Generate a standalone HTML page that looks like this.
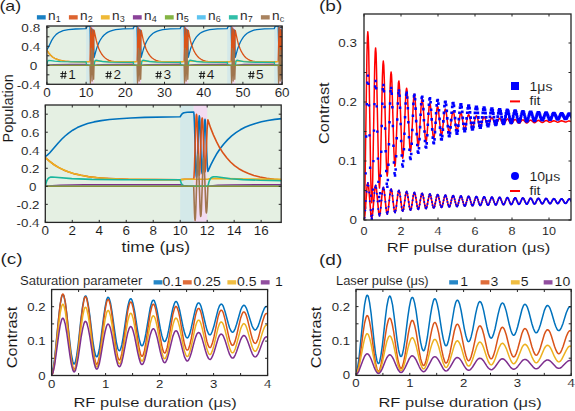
<!DOCTYPE html><html><head><meta charset="utf-8"><style>html,body{margin:0;padding:0;background:#fff;overflow:hidden;}svg{display:block;}text{font-family:"Liberation Sans",sans-serif;stroke:#fff;stroke-width:0.07px;}</style></head><body><svg width="575" height="411" viewBox="0 0 575 411" font-family="Liberation Sans, sans-serif" fill="#161616">
<rect width="575" height="411" fill="#fff"/>
<defs>
<clipPath id="ca1"><rect x="46.90" y="26.00" width="235.20" height="58.30"/></clipPath>
<clipPath id="ca2"><rect x="45.30" y="105.00" width="235.90" height="117.40"/></clipPath>
<clipPath id="cb"><rect x="364.00" y="14.00" width="207.00" height="206.00"/></clipPath>
<clipPath id="cc"><rect x="51.60" y="289.50" width="216.00" height="86.00"/></clipPath>
<clipPath id="cd"><rect x="356.00" y="289.50" width="215.20" height="85.90"/></clipPath>
</defs>
<rect x="46.9" y="26.0" width="235.20" height="58.30" fill="#E5F0E3"/>
<rect x="86.10" y="26.0" width="3.92" height="58.30" fill="#D4E9E9"/>
<rect x="90.02" y="26.0" width="3.92" height="58.30" fill="#F2DBF1"/>
<rect x="133.14" y="26.0" width="3.92" height="58.30" fill="#D4E9E9"/>
<rect x="137.06" y="26.0" width="3.92" height="58.30" fill="#F2DBF1"/>
<rect x="180.18" y="26.0" width="3.92" height="58.30" fill="#D4E9E9"/>
<rect x="184.10" y="26.0" width="3.92" height="58.30" fill="#F2DBF1"/>
<rect x="227.22" y="26.0" width="3.92" height="58.30" fill="#D4E9E9"/>
<rect x="231.14" y="26.0" width="3.92" height="58.30" fill="#F2DBF1"/>
<rect x="274.26" y="26.0" width="3.92" height="58.30" fill="#D4E9E9"/>
<rect x="278.18" y="26.0" width="3.92" height="58.30" fill="#F2DBF1"/>
<g clip-path="url(#ca1)">
<path d="M46.9,49.6L48.2,47.7L51.7,40.4L53.6,37.4L56.2,34.4L59.2,32.3L63.1,30.7L68.3,29.7L75.6,29.0L86.1,28.7L86.6,27.3L87.2,26.5L88.1,26.2L90.0,26.2L90.8,60.6L91.7,28.2L92.5,58.7L93.3,30.0L94.1,57.5L96.5,48.9L97.8,45.3L99.2,42.0L100.7,39.3L102.3,37.0L104.1,35.0L106.0,33.4L108.0,32.1L110.3,31.1L112.7,30.3L115.6,29.6L123.2,28.9L133.2,28.7L133.6,27.3L134.3,26.5L135.2,26.2L137.0,26.2L137.9,60.6L138.7,28.2L139.5,58.7L140.3,30.0L141.2,57.3L143.6,48.7L144.9,45.2L146.3,42.0L147.8,39.3L149.4,36.9L151.2,35.0L153.1,33.3L155.1,32.1L157.3,31.1L159.8,30.3L162.7,29.6L170.3,28.9L180.2,28.7L180.7,27.3L181.3,26.5L182.2,26.2L184.1,26.2L184.9,60.6L185.7,28.2L186.6,58.7L187.4,30.0L188.3,57.3L190.6,48.7L191.9,45.2L193.3,42.0L194.8,39.3L196.4,36.9L198.2,35.0L200.1,33.3L202.1,32.1L204.4,31.1L206.9,30.3L209.7,29.6L217.4,28.9L227.2,28.7L227.7,27.3L228.3,26.5L229.2,26.2L231.1,26.2L232.0,60.6L232.8,28.2L233.6,58.7L234.4,30.0L235.3,57.3L237.7,48.7L239.0,45.2L240.4,42.0L241.9,39.3L243.5,36.9L245.2,35.0L247.2,33.3L249.2,32.1L251.4,31.1L253.9,30.2L256.8,29.6L264.4,28.9L274.3,28.7L274.7,27.3L275.4,26.5L276.3,26.2L278.2,26.2L279.0,60.6L279.8,28.2L280.6,58.5L280.8,56.2L281.5,30.0L282.2,56.4L282.3,57.3L282.9,55.1" fill="none" stroke="#0072BD" stroke-width="1.3" stroke-linejoin="round" />
<path d="M46.9,50.1L49.3,53.8L52.2,56.7L55.4,58.7L59.4,60.2L64.4,61.1L71.0,61.6L86.1,61.9L87.4,61.6L90.0,61.5L90.8,27.4L91.7,59.5L92.5,29.3L93.3,57.7L94.1,30.2L96.3,40.5L97.5,44.7L98.7,48.2L100.1,51.4L101.6,54.0L103.3,56.2L105.1,57.9L107.0,59.3L109.0,60.3L111.4,61.1L114.2,61.7L121.2,62.4L133.1,62.7L133.2,61.9L133.5,61.8L137.1,61.4L137.9,27.4L138.7,59.5L139.5,29.3L140.3,57.7L141.2,30.5L143.4,40.7L144.6,44.8L145.8,48.3L147.2,51.4L148.7,54.0L150.3,56.2L152.1,58.0L154.0,59.3L156.1,60.3L158.5,61.2L161.3,61.7L168.3,62.4L180.2,62.7L180.2,61.9L180.5,61.8L184.1,61.4L184.9,27.4L185.7,59.5L186.6,29.3L187.4,57.7L188.3,30.5L190.4,40.7L191.6,44.8L192.9,48.3L194.2,51.4L195.7,54.0L197.4,56.2L199.2,58.0L201.1,59.3L203.2,60.3L205.6,61.2L208.3,61.7L215.4,62.4L227.2,62.7L227.2,61.9L227.5,61.8L231.2,61.4L232.0,27.4L232.8,59.5L233.6,29.3L234.4,57.7L235.3,30.5L237.5,40.7L238.6,44.8L239.9,48.3L241.3,51.4L242.8,54.0L244.4,56.2L246.2,58.0L248.1,59.3L250.2,60.3L252.6,61.2L255.4,61.7L262.4,62.4L274.2,62.7L274.3,61.9L274.6,61.8L278.2,61.4L279.0,27.4L279.8,59.2L280.0,56.9L280.6,29.3L281.5,57.7L282.2,31.6L282.3,30.5L282.9,33.4" fill="none" stroke="#D95319" stroke-width="1.3" stroke-linejoin="round" />
<path d="M46.9,50.1L48.7,53.0L50.7,55.3L52.9,57.2L55.4,58.7L58.3,59.8L61.6,60.7L65.5,61.2L70.5,61.6L86.1,61.9L87.6,61.6L94.1,61.5L95.1,61.2L96.5,61.1L108.1,61.6L133.1,61.7L133.2,61.9L134.6,61.6L141.2,61.5L142.1,61.2L143.5,61.1L155.2,61.6L180.2,61.7L180.2,61.9L181.7,61.6L188.2,61.5L189.2,61.2L190.5,61.1L202.3,61.6L227.2,61.7L227.2,61.9L228.7,61.6L235.3,61.5L236.2,61.2L237.5,61.1L249.3,61.6L274.2,61.7L274.3,61.9L275.8,61.6L282.3,61.5L282.9,61.3" fill="none" stroke="#EDB120" stroke-width="1.3" stroke-linejoin="round" />
<path d="M46.9,65.3L49.9,64.8L54.0,64.6L70.7,64.4L86.1,64.4L87.5,65.0L90.0,65.3L94.1,65.3L97.3,64.8L101.7,64.6L117.1,64.4L133.1,64.4L134.6,65.0L137.1,65.3L141.2,65.3L144.3,64.8L148.6,64.6L163.1,64.4L180.2,64.4L181.6,65.0L184.1,65.3L188.2,65.3L191.3,64.8L195.4,64.6L208.6,64.4L227.2,64.4L228.2,64.9L229.5,65.2L235.3,65.3L239.0,64.8L244.3,64.5L274.2,64.4L275.3,65.0L276.8,65.2L282.9,65.2" fill="none" stroke="#7E2F8E" stroke-width="1.3" stroke-linejoin="round" />
<path d="M46.9,65.3L282.9,65.3" fill="none" stroke="#4DBEEE" stroke-width="1.3" stroke-linejoin="round" />
<path d="M46.9,65.3L47.3,62.8L47.6,61.4L48.2,60.6L48.9,60.4L54.6,61.2L60.5,61.6L86.1,61.9L86.4,63.8L86.9,64.9L87.6,65.2L89.0,65.3L94.1,65.3L94.8,61.3L95.4,60.5L96.0,60.2L102.3,61.5L109.3,62.2L133.1,62.4L133.2,62.0L133.5,63.8L133.9,64.8L134.5,65.2L135.9,65.3L141.2,65.3L141.9,61.3L142.4,60.5L143.1,60.2L149.4,61.5L156.4,62.2L180.2,62.4L180.2,62.0L180.5,63.8L180.9,64.8L181.6,65.2L182.8,65.3L188.2,65.3L188.9,61.3L189.4,60.5L190.1,60.2L196.4,61.5L203.4,62.2L227.2,62.4L227.2,62.0L227.5,63.8L227.9,64.8L228.5,65.2L229.7,65.3L235.3,65.3L236.0,61.3L236.4,60.5L237.1,60.2L243.5,61.6L250.5,62.2L274.2,62.4L274.3,62.0L274.5,63.7L274.9,64.7L275.5,65.2L276.5,65.3L282.3,65.3L282.9,61.7" fill="none" stroke="#1BB79E" stroke-width="1.3" stroke-linejoin="round" />
<path d="M46.9,65.3L90.0,65.3L90.4,83.2L91.3,48.4L92.1,81.1L92.9,50.4L93.7,79.3L94.1,65.3L137.0,65.3L137.5,83.2L138.3,48.4L139.1,81.1L139.9,50.4L140.7,79.3L141.2,65.3L184.1,65.3L184.5,83.2L185.3,48.4L186.1,81.1L187.0,50.4L187.8,79.3L188.3,65.3L231.1,65.3L231.6,83.2L232.4,48.4L233.2,81.1L234.0,50.4L234.8,79.3L235.3,65.3L278.2,65.3L278.6,83.3L279.4,48.5L280.2,81.1L281.0,50.4L281.8,79.0L282.0,77.4L282.3,65.4L282.9,65.3" fill="none" stroke="#A0764E" stroke-width="1.3" stroke-linejoin="round" />
<path d="M46.9,65.3L282.9,65.3" fill="none" stroke="#77AC30" stroke-width="1.3" stroke-linejoin="round" stroke-opacity="0.55"/>
</g>
<path d="M46.90,84.30v-2.5M46.90,26.00v2.5M86.10,84.30v-2.5M86.10,26.00v2.5M125.30,84.30v-2.5M125.30,26.00v2.5M164.50,84.30v-2.5M164.50,26.00v2.5M203.70,84.30v-2.5M203.70,26.00v2.5M242.90,84.30v-2.5M242.90,26.00v2.5M282.10,84.30v-2.5M282.10,26.00v2.5M46.90,84.30h2.5M282.10,84.30h-2.5M46.90,74.80h2.5M282.10,74.80h-2.5M46.90,65.30h2.5M282.10,65.30h-2.5M46.90,55.80h2.5M282.10,55.80h-2.5M46.90,46.30h2.5M282.10,46.30h-2.5M46.90,36.80h2.5M282.10,36.80h-2.5M46.90,27.30h2.5M282.10,27.30h-2.5" stroke="#262626" stroke-width="1" fill="none"/>
<rect x="46.90" y="26.00" width="235.20" height="58.30" fill="none" stroke="#262626" stroke-width="1.3"/>
<text transform="translate(46.90,96.60) scale(1.120,1)" font-size="12" text-anchor="middle">0</text>
<text transform="translate(86.10,96.60) scale(1.120,1)" font-size="12" text-anchor="middle">10</text>
<text transform="translate(125.30,96.60) scale(1.120,1)" font-size="12" text-anchor="middle">20</text>
<text transform="translate(164.50,96.60) scale(1.120,1)" font-size="12" text-anchor="middle">30</text>
<text transform="translate(203.70,96.60) scale(1.120,1)" font-size="12" text-anchor="middle">40</text>
<text transform="translate(242.90,96.60) scale(1.120,1)" font-size="12" text-anchor="middle">50</text>
<text transform="translate(282.10,96.60) scale(1.120,1)" font-size="12" text-anchor="middle">60</text>
<text transform="translate(40.20,31.90) scale(1.180,1)" font-size="11.5" text-anchor="end">0.8</text>
<text transform="translate(40.20,50.90) scale(1.180,1)" font-size="11.5" text-anchor="end">0.4</text>
<text transform="translate(37.30,69.90) scale(1.180,1)" font-size="11.5" text-anchor="end">0</text>
<text transform="translate(40.20,88.90) scale(1.180,1)" font-size="11.5" text-anchor="end">-0.4</text>
<path d="M62.70,71.2L61.90,78.7M65.50,71.2L64.70,78.7M60.40,73.5H66.60M60.20,76.4H66.40" stroke="#161616" stroke-width="0.95" fill="none"/>
<text transform="translate(68.20,78.80) scale(1.120,1)" font-size="12.2" text-anchor="start">1</text>
<path d="M107.90,71.2L107.10,78.7M110.70,71.2L109.90,78.7M105.60,73.5H111.80M105.40,76.4H111.60" stroke="#161616" stroke-width="0.95" fill="none"/>
<text transform="translate(113.40,78.80) scale(1.120,1)" font-size="12.2" text-anchor="start">2</text>
<path d="M157.90,71.2L157.10,78.7M160.70,71.2L159.90,78.7M155.60,73.5H161.80M155.40,76.4H161.60" stroke="#161616" stroke-width="0.95" fill="none"/>
<text transform="translate(163.40,78.80) scale(1.120,1)" font-size="12.2" text-anchor="start">3</text>
<path d="M201.30,71.2L200.50,78.7M204.10,71.2L203.30,78.7M199.00,73.5H205.20M198.80,76.4H205.00" stroke="#161616" stroke-width="0.95" fill="none"/>
<text transform="translate(206.80,78.80) scale(1.120,1)" font-size="12.2" text-anchor="start">4</text>
<path d="M250.60,71.2L249.80,78.7M253.40,71.2L252.60,78.7M248.30,73.5H254.50M248.10,76.4H254.30" stroke="#161616" stroke-width="0.95" fill="none"/>
<text transform="translate(256.10,78.80) scale(1.120,1)" font-size="12.2" text-anchor="start">5</text>
<rect x="36.9" y="15.2" width="8.8" height="4.3" fill="#0072BD" fill-opacity="0.9"/>
<text transform="translate(48.10,20.00) scale(1.050,1)" font-size="13" text-anchor="start">n</text>
<text transform="translate(55.80,22.20) scale(1.050,1)" font-size="8.6" text-anchor="start">1</text>
<rect x="68.9" y="15.2" width="8.8" height="4.3" fill="#D95319" fill-opacity="0.9"/>
<text transform="translate(80.10,20.00) scale(1.050,1)" font-size="13" text-anchor="start">n</text>
<text transform="translate(87.80,22.20) scale(1.050,1)" font-size="8.6" text-anchor="start">2</text>
<rect x="100.9" y="15.2" width="8.8" height="4.3" fill="#EDB120" fill-opacity="0.9"/>
<text transform="translate(112.10,20.00) scale(1.050,1)" font-size="13" text-anchor="start">n</text>
<text transform="translate(119.80,22.20) scale(1.050,1)" font-size="8.6" text-anchor="start">3</text>
<rect x="132.9" y="15.2" width="8.8" height="4.3" fill="#7E2F8E" fill-opacity="0.9"/>
<text transform="translate(144.10,20.00) scale(1.050,1)" font-size="13" text-anchor="start">n</text>
<text transform="translate(151.80,22.20) scale(1.050,1)" font-size="8.6" text-anchor="start">4</text>
<rect x="164.9" y="15.2" width="8.8" height="4.3" fill="#77AC30" fill-opacity="0.9"/>
<text transform="translate(176.10,20.00) scale(1.050,1)" font-size="13" text-anchor="start">n</text>
<text transform="translate(183.80,22.20) scale(1.050,1)" font-size="8.6" text-anchor="start">5</text>
<rect x="196.9" y="15.2" width="8.8" height="4.3" fill="#4DBEEE" fill-opacity="0.9"/>
<text transform="translate(208.10,20.00) scale(1.050,1)" font-size="13" text-anchor="start">n</text>
<text transform="translate(215.80,22.20) scale(1.050,1)" font-size="8.6" text-anchor="start">6</text>
<rect x="228.9" y="15.2" width="8.8" height="4.3" fill="#1BB79E" fill-opacity="0.9"/>
<text transform="translate(240.10,20.00) scale(1.050,1)" font-size="13" text-anchor="start">n</text>
<text transform="translate(247.80,22.20) scale(1.050,1)" font-size="8.6" text-anchor="start">7</text>
<rect x="260.9" y="15.2" width="8.8" height="4.3" fill="#A0764E" fill-opacity="0.9"/>
<text transform="translate(272.10,20.00) scale(1.050,1)" font-size="13" text-anchor="start">n</text>
<text transform="translate(279.80,22.20) scale(1.050,1)" font-size="8.6" text-anchor="start">c</text>
<text transform="translate(-0.60,10.80) scale(1.150,1)" font-size="15.5" text-anchor="start">(a)</text>
<rect x="45.3" y="105.0" width="235.90" height="117.40" fill="#E5F0E3"/>
<rect x="180.20" y="105.0" width="13.49" height="117.40" fill="#D4E9E9"/>
<rect x="193.69" y="105.0" width="13.49" height="117.40" fill="#F2DBF1"/>
<g clip-path="url(#ca2)">
<path d="M45.3,156.6L47.3,155.2L49.6,153.0L58.0,143.2L61.9,139.0L65.1,136.0L68.3,133.3L72.7,130.2L77.3,127.6L82.2,125.4L87.6,123.6L94.0,121.9L101.2,120.6L109.5,119.5L119.2,118.7L130.8,118.0L144.5,117.4L180.2,116.8L180.9,115.4L181.8,114.2L182.8,113.3L184.0,112.7L187.2,112.2L193.7,112.0L194.0,114.3L194.4,122.4L195.9,170.6L196.2,175.9L196.5,177.4L196.9,175.1L197.3,167.3L198.7,123.7L199.0,118.1L199.3,115.9L199.6,117.4L199.9,122.3L201.4,165.1L201.8,171.9L202.2,173.7L202.5,172.2L202.9,165.8L204.4,125.6L204.7,121.0L205.0,119.4L205.3,121.0L205.6,125.6L207.1,161.9L207.5,168.4L207.9,171.5L210.8,164.9L213.9,158.8L217.1,153.2L220.4,148.3L224.0,143.7L227.7,139.6L231.7,135.9L235.9,132.7L240.3,129.8L245.0,127.3L250.0,125.2L255.4,123.4L261.4,121.8L267.8,120.5L274.8,119.4L282.7,118.5" fill="none" stroke="#0072BD" stroke-width="1.6" stroke-linejoin="round" />
<path d="M45.3,157.5L49.4,161.2L53.8,164.5L58.4,167.4L63.4,169.9L68.8,172.0L74.7,173.9L81.2,175.3L88.3,176.6L96.3,177.6L105.4,178.3L116.0,178.9L128.5,179.3L180.2,179.8L184.6,179.2L193.7,179.1L194.0,176.8L194.4,168.9L195.9,121.1L196.2,115.9L196.5,114.4L196.9,116.7L197.3,124.4L198.7,167.5L199.0,173.1L199.3,175.2L199.6,173.7L199.9,168.9L201.4,126.6L201.8,119.9L202.2,118.0L202.5,119.6L202.9,125.9L204.4,165.6L204.7,170.2L205.0,171.8L205.3,170.2L205.6,165.6L207.1,129.8L207.9,119.8L210.6,127.9L213.5,135.1L216.5,141.7L219.7,147.8L223.1,153.1L226.7,157.8L230.5,162.0L234.5,165.6L238.8,168.7L243.4,171.3L248.5,173.6L253.9,175.5L259.9,177.0L266.6,178.3L274.1,179.3L282.7,180.0" fill="none" stroke="#D95319" stroke-width="1.6" stroke-linejoin="round" />
<path d="M45.3,157.5L50.0,161.7L55.2,165.5L60.7,168.6L66.8,171.3L73.4,173.5L80.8,175.3L89.0,176.7L98.4,177.8L108.1,178.5L119.5,179.0L150.0,179.6L180.2,179.8L182.8,179.4L186.5,179.2L207.9,179.1L211.0,178.6L215.4,178.4L247.3,179.1L282.7,179.4" fill="none" stroke="#EDB120" stroke-width="1.6" stroke-linejoin="round" />
<path d="M45.3,186.3L52.1,185.7L60.3,185.2L84.1,184.8L180.2,184.7L183.5,185.6L188.0,186.1L193.7,186.3L207.8,186.3L217.9,185.4L231.0,185.0L282.7,184.7" fill="none" stroke="#7E2F8E" stroke-width="1.6" stroke-linejoin="round" />
<path d="M45.3,186.3L282.7,186.3" fill="none" stroke="#4DBEEE" stroke-width="1.6" stroke-linejoin="round" />
<path d="M45.3,186.3L46.4,181.9L47.0,180.3L47.8,179.0L48.7,178.0L49.7,177.5L50.8,177.1L52.2,177.0L71.8,178.6L92.0,179.4L122.1,179.7L180.2,179.8L181.2,183.2L181.8,184.3L182.5,185.1L183.4,185.7L184.4,186.0L187.9,186.3L207.9,186.3L209.0,181.7L210.2,178.9L210.9,178.0L211.8,177.3L212.8,176.9L214.0,176.7L216.6,176.8L230.6,178.7L242.8,179.6L259.8,180.3L282.7,180.7" fill="none" stroke="#1BB79E" stroke-width="1.6" stroke-linejoin="round" />
<path d="M45.3,186.3L193.7,186.3L194.5,212.9L194.8,218.6L195.1,220.4L195.4,218.0L195.8,209.7L197.3,162.8L197.6,156.7L197.9,154.3L198.2,155.8L198.5,160.9L200.0,206.9L200.4,214.3L200.7,216.4L201.1,214.8L201.4,209.8L202.9,166.6L203.3,159.8L203.6,158.0L203.9,159.6L204.3,166.2L205.8,206.8L206.1,211.4L206.4,212.9L206.7,211.2L207.1,206.5L207.9,186.3L282.7,186.3" fill="none" stroke="#A0764E" stroke-width="1.6" stroke-linejoin="round" />
<path d="M45.3,186.3L282.7,186.3" fill="none" stroke="#77AC30" stroke-width="1.6" stroke-linejoin="round" stroke-opacity="0.55"/>
</g>
<path d="M45.30,222.40v-2.5M45.30,105.00v2.5M72.28,222.40v-2.5M72.28,105.00v2.5M99.26,222.40v-2.5M99.26,105.00v2.5M126.24,222.40v-2.5M126.24,105.00v2.5M153.22,222.40v-2.5M153.22,105.00v2.5M180.20,222.40v-2.5M180.20,105.00v2.5M207.18,222.40v-2.5M207.18,105.00v2.5M234.16,222.40v-2.5M234.16,105.00v2.5M261.14,222.40v-2.5M261.14,105.00v2.5M45.30,222.36h2.5M281.20,222.36h-2.5M45.30,204.33h2.5M281.20,204.33h-2.5M45.30,186.30h2.5M281.20,186.30h-2.5M45.30,168.27h2.5M281.20,168.27h-2.5M45.30,150.24h2.5M281.20,150.24h-2.5M45.30,132.21h2.5M281.20,132.21h-2.5M45.30,114.18h2.5M281.20,114.18h-2.5" stroke="#262626" stroke-width="1" fill="none"/>
<rect x="45.30" y="105.00" width="235.90" height="117.40" fill="none" stroke="#262626" stroke-width="1.3"/>
<text transform="translate(45.30,235.40) scale(1.120,1)" font-size="12" text-anchor="middle">0</text>
<text transform="translate(72.28,235.40) scale(1.120,1)" font-size="12" text-anchor="middle">2</text>
<text transform="translate(99.26,235.40) scale(1.120,1)" font-size="12" text-anchor="middle">4</text>
<text transform="translate(126.24,235.40) scale(1.120,1)" font-size="12" text-anchor="middle">6</text>
<text transform="translate(153.22,235.40) scale(1.120,1)" font-size="12" text-anchor="middle">8</text>
<text transform="translate(180.20,235.40) scale(1.120,1)" font-size="12" text-anchor="middle">10</text>
<text transform="translate(207.18,235.40) scale(1.120,1)" font-size="12" text-anchor="middle">12</text>
<text transform="translate(234.16,235.40) scale(1.120,1)" font-size="12" text-anchor="middle">14</text>
<text transform="translate(261.14,235.40) scale(1.120,1)" font-size="12" text-anchor="middle">16</text>
<text transform="translate(39.50,226.66) scale(1.180,1)" font-size="11.3" text-anchor="end">-0.4</text>
<text transform="translate(39.50,208.63) scale(1.180,1)" font-size="11.3" text-anchor="end">-0.2</text>
<text transform="translate(36.30,190.60) scale(1.180,1)" font-size="11.3" text-anchor="end">0</text>
<text transform="translate(39.50,172.57) scale(1.180,1)" font-size="11.3" text-anchor="end">0.2</text>
<text transform="translate(39.50,154.54) scale(1.180,1)" font-size="11.3" text-anchor="end">0.4</text>
<text transform="translate(39.50,136.51) scale(1.180,1)" font-size="11.3" text-anchor="end">0.6</text>
<text transform="translate(39.50,118.48) scale(1.180,1)" font-size="11.3" text-anchor="end">0.8</text>
<text transform="translate(155.80,252.00) scale(1.270,1)" font-size="13.8" text-anchor="middle">time (μs)</text>
<text transform="translate(12.70,108.30) rotate(-90) scale(1.010,1)" font-size="14.3" text-anchor="middle">Population</text>
<g clip-path="url(#cb)">
<path d="M364.0,220.6L364.5,212.4L364.9,191.4L366.9,55.4L367.4,37.4L367.8,31.7L368.2,36.2L368.7,50.3L370.7,175.9L371.2,196.1L371.7,202.8L371.9,201.9L372.2,197.7L372.7,179.6L374.7,65.9L375.2,51.8L375.6,47.9L376.1,53.4L376.5,68.5L378.6,171.5L379.1,184.4L379.5,188.1L379.9,183.3L380.5,167.8L382.4,76.4L382.9,64.6L383.3,61.1L383.8,65.4L384.3,79.2L386.3,162.0L386.8,172.8L387.2,176.1L387.7,172.4L388.2,160.0L390.2,85.0L390.7,75.1L391.1,72.0L391.5,74.5L391.9,82.3L393.9,151.5L394.5,162.6L394.9,166.3L395.1,165.8L395.4,163.4L395.9,153.4L398.0,90.8L398.4,83.0L398.9,80.9L399.3,84.0L399.8,92.3L401.8,149.1L402.3,156.2L402.7,158.2L403.2,155.5L403.7,146.9L405.7,96.6L406.2,90.1L406.6,88.2L407.1,90.6L407.6,98.2L409.6,143.9L410.0,149.8L410.5,151.6L410.9,149.5L411.5,142.6L413.4,101.3L413.9,95.9L414.3,94.2L414.7,95.6L415.2,99.9L417.2,138.1L417.7,144.2L418.2,146.2L418.6,144.9L419.0,141.1L421.1,106.5L421.6,101.0L422.1,99.1L422.3,99.3L422.5,100.5L423.1,105.4L425.1,136.7L425.6,140.6L426.0,141.7L426.5,140.2L427.0,135.5L429.0,107.7L429.4,104.2L429.9,103.1L430.3,104.5L430.8,108.7L432.8,133.8L433.3,137.1L433.7,138.1L434.2,136.9L434.7,133.1L436.7,110.4L437.2,107.4L437.6,106.4L438.0,107.2L438.4,109.6L440.5,130.6L441.0,134.0L441.5,135.1L441.9,134.4L442.3,132.3L444.3,113.2L444.9,110.2L445.3,109.1L445.7,109.7L446.2,111.6L448.2,128.9L448.7,131.7L449.2,132.6L449.6,132.1L450.0,130.4L452.1,114.8L452.6,112.3L453.1,111.4L453.6,112.1L454.1,114.4L456.1,128.3L456.6,130.1L457.0,130.6L457.4,130.0L458.0,127.9L460.0,115.3L460.4,113.7L460.8,113.2L461.3,113.6L461.7,114.9L463.7,126.5L464.2,128.4L464.7,129.0L465.1,128.6L465.5,127.4L467.6,116.9L468.1,115.2L468.6,114.7L469.0,115.0L469.4,116.1L471.5,125.6L472.0,127.1L472.4,127.6L472.9,127.3L473.3,126.4L475.3,117.8L475.8,116.4L476.4,115.9L476.8,116.3L477.4,117.6L479.3,125.2L479.8,126.2L480.2,126.5L480.7,126.2L481.2,125.0L483.2,118.1L483.7,117.2L484.1,116.9L484.6,117.2L485.1,118.3L487.1,124.5L487.5,125.3L488.0,125.6L488.4,125.4L488.8,124.7L490.8,119.0L491.4,118.0L491.8,117.7L492.3,117.9L492.7,118.5L494.7,123.7L495.2,124.6L495.7,124.9L496.1,124.7L496.5,124.2L498.6,119.4L499.1,118.7L499.6,118.4L500.0,118.5L500.5,119.1L502.4,123.3L503.0,124.0L503.4,124.2L503.9,124.1L504.3,123.6L506.4,119.8L506.9,119.1L507.4,119.0L507.8,119.1L508.3,119.7L510.3,123.2L511.2,123.7L512.1,123.3L514.1,120.1L514.6,119.6L515.1,119.4L515.9,119.8L518.0,122.7L519.0,123.3L519.8,123.0L521.8,120.3L522.8,119.8L523.7,120.2L525.7,122.5L526.7,123.0L527.5,122.7L529.6,120.5L530.6,120.1L531.4,120.4L533.4,122.3L534.4,122.7L535.3,122.5L537.4,120.7L538.3,120.3L539.2,120.6L541.2,122.1L542.2,122.5L543.1,122.3L545.1,120.9L546.1,120.5L547.0,120.7L549.0,122.0L549.9,122.3L550.8,122.1L552.8,121.0L553.8,120.7L554.7,120.9L556.7,121.9L557.6,122.2L558.5,122.0L560.6,121.0L561.6,120.8L562.5,121.0L565.3,122.0L566.3,121.9L568.3,121.1L569.3,121.0L573.0,121.9" fill="none" stroke="#FF0000" stroke-width="1.5" stroke-linejoin="round" />
<path d="M362.8,241.8h2.4v2.4h-2.4zM363.4,231.5h2.4v2.4h-2.4zM363.9,206.6h2.4v2.4h-2.4zM364.5,172.2h2.4v2.4h-2.4zM365.0,135.3h2.4v2.4h-2.4zM365.6,103.0h2.4v2.4h-2.4zM366.1,81.4h2.4v2.4h-2.4zM366.7,74.4h2.4v2.4h-2.4zM367.2,82.7h2.4v2.4h-2.4zM367.8,104.2h2.4v2.4h-2.4zM368.3,134.2h2.4v2.4h-2.4zM368.9,166.5h2.4v2.4h-2.4zM369.4,194.5h2.4v2.4h-2.4zM370.0,212.8h2.4v2.4h-2.4zM370.6,218.0h2.4v2.4h-2.4zM371.1,209.2h2.4v2.4h-2.4zM371.7,188.4h2.4v2.4h-2.4zM372.2,159.9h2.4v2.4h-2.4zM372.8,129.4h2.4v2.4h-2.4zM373.3,102.9h2.4v2.4h-2.4zM373.9,85.3h2.4v2.4h-2.4zM374.4,79.8h2.4v2.4h-2.4zM375.0,87.0h2.4v2.4h-2.4zM375.5,105.2h2.4v2.4h-2.4zM376.1,130.4h2.4v2.4h-2.4zM376.7,157.4h2.4v2.4h-2.4zM377.2,180.7h2.4v2.4h-2.4zM377.8,195.8h2.5v2.5h-2.5zM378.3,199.8h2.5v2.5h-2.5zM378.9,192.1h2.5v2.5h-2.5zM379.4,174.4h2.5v2.5h-2.5zM380.0,150.4h2.5v2.5h-2.5zM380.5,124.8h2.5v2.5h-2.5zM381.1,102.6h2.5v2.5h-2.5zM381.6,88.0h2.5v2.5h-2.5zM382.2,83.7h2.5v2.5h-2.5zM382.7,90.1h2.5v2.5h-2.5zM383.3,105.8h2.5v2.5h-2.5zM383.9,127.3h2.5v2.5h-2.5zM384.4,150.1h2.5v2.5h-2.5zM385.0,169.8h2.5v2.5h-2.5zM385.5,182.5h2.5v2.5h-2.5zM386.1,185.6h2.5v2.5h-2.5zM386.6,178.8h2.5v2.5h-2.5zM387.2,163.6h2.5v2.5h-2.5zM387.7,142.9h2.5v2.5h-2.5zM388.3,121.1h2.5v2.5h-2.5zM388.8,102.3h2.5v2.5h-2.5zM389.4,90.1h2.5v2.5h-2.5zM389.9,86.7h2.5v2.5h-2.5zM390.5,92.5h2.5v2.5h-2.5zM391.1,106.1h2.5v2.5h-2.5zM391.6,124.7h2.5v2.5h-2.5zM392.2,144.4h2.5v2.5h-2.5zM392.7,161.2h2.5v2.5h-2.5zM393.3,171.9h2.5v2.5h-2.5zM393.8,174.3h2.5v2.5h-2.5zM394.4,168.2h2.5v2.5h-2.5zM394.9,154.9h2.5v2.5h-2.5zM395.5,137.1h2.5v2.5h-2.5zM396.0,118.3h2.5v2.5h-2.5zM396.6,102.2h2.5v2.5h-2.5zM397.2,91.9h2.5v2.5h-2.5zM397.7,89.2h2.5v2.5h-2.5zM398.3,94.5h2.5v2.5h-2.5zM398.8,106.5h2.5v2.5h-2.5zM399.4,122.7h2.5v2.5h-2.5zM399.9,139.7h2.5v2.5h-2.5zM400.5,154.2h2.5v2.5h-2.5zM401.0,163.2h2.5v2.5h-2.5zM401.6,165.2h2.5v2.5h-2.5zM402.1,159.7h2.5v2.5h-2.5zM402.7,148.0h2.5v2.5h-2.5zM403.2,132.4h2.5v2.5h-2.5zM403.8,116.1h2.5v2.5h-2.5zM404.4,102.3h2.5v2.5h-2.5zM404.9,93.5h2.5v2.5h-2.5zM405.5,91.4h2.5v2.5h-2.5zM406.0,96.2h2.5v2.5h-2.5zM406.6,106.9h2.5v2.5h-2.5zM407.1,121.1h2.5v2.5h-2.5zM407.7,135.9h2.6v2.6h-2.6zM408.2,148.4h2.6v2.6h-2.6zM408.8,156.2h2.6v2.6h-2.6zM409.3,157.7h2.6v2.6h-2.6zM409.9,152.7h2.6v2.6h-2.6zM410.4,142.4h2.6v2.6h-2.6zM411.0,128.7h2.6v2.6h-2.6zM411.6,114.5h2.6v2.6h-2.6zM412.1,102.6h2.6v2.6h-2.6zM412.7,95.1h2.6v2.6h-2.6zM413.2,93.5h2.6v2.6h-2.6zM413.8,97.9h2.6v2.6h-2.6zM414.3,107.3h2.6v2.6h-2.6zM414.9,119.8h2.6v2.6h-2.6zM415.4,132.8h2.6v2.6h-2.6zM416.0,143.7h2.6v2.6h-2.6zM416.5,150.3h2.6v2.6h-2.6zM417.1,151.4h2.6v2.6h-2.6zM417.7,146.9h2.6v2.6h-2.6zM418.2,137.8h2.6v2.6h-2.6zM418.8,125.8h2.6v2.6h-2.6zM419.3,113.4h2.6v2.6h-2.6zM419.9,103.0h2.6v2.6h-2.6zM420.4,96.6h2.6v2.6h-2.6zM421.0,95.4h2.6v2.6h-2.6zM421.5,99.4h2.6v2.6h-2.6zM422.1,107.8h2.6v2.6h-2.6zM422.6,118.9h2.6v2.6h-2.6zM423.2,130.2h2.6v2.6h-2.6zM423.7,139.7h2.6v2.6h-2.6zM424.3,145.4h2.6v2.6h-2.6zM424.9,146.2h2.6v2.6h-2.6zM425.4,142.1h2.6v2.6h-2.6zM426.0,134.0h2.6v2.6h-2.6zM426.5,123.4h2.6v2.6h-2.6zM427.1,112.5h2.6v2.6h-2.6zM427.6,103.5h2.6v2.6h-2.6zM428.2,98.1h2.6v2.6h-2.6zM428.7,97.1h2.6v2.6h-2.6zM429.3,100.9h2.6v2.6h-2.6zM429.8,108.4h2.6v2.6h-2.6zM430.4,118.1h2.6v2.6h-2.6zM430.9,128.1h2.6v2.6h-2.6zM431.5,136.3h2.6v2.6h-2.6zM432.1,141.2h2.6v2.6h-2.6zM432.6,141.8h2.6v2.6h-2.6zM433.2,138.1h2.6v2.6h-2.6zM433.7,130.8h2.6v2.6h-2.6zM434.3,121.5h2.6v2.6h-2.6zM434.8,112.0h2.6v2.6h-2.6zM435.4,104.1h2.6v2.6h-2.6zM435.9,99.5h2.6v2.6h-2.6zM436.5,98.8h2.6v2.6h-2.6zM437.0,102.2h2.7v2.7h-2.7zM437.6,108.9h2.7v2.7h-2.7zM438.2,117.5h2.7v2.7h-2.7zM438.7,126.3h2.7v2.7h-2.7zM439.3,133.5h2.7v2.7h-2.7zM439.8,137.7h2.7v2.7h-2.7zM440.4,138.1h2.7v2.7h-2.7zM440.9,134.7h2.7v2.7h-2.7zM441.5,128.2h2.7v2.7h-2.7zM442.0,120.0h2.7v2.7h-2.7zM442.6,111.6h2.7v2.7h-2.7zM443.1,104.8h2.7v2.7h-2.7zM443.7,100.8h2.7v2.7h-2.7zM444.2,100.4h2.7v2.7h-2.7zM444.8,103.5h2.7v2.7h-2.7zM445.4,109.5h2.7v2.7h-2.7zM445.9,117.1h2.7v2.7h-2.7zM446.5,124.8h2.7v2.7h-2.7zM447.0,131.0h2.7v2.7h-2.7zM447.6,134.6h2.7v2.7h-2.7zM448.1,134.9h2.7v2.7h-2.7zM448.7,131.8h2.7v2.7h-2.7zM449.2,126.0h2.7v2.7h-2.7zM449.8,118.8h2.7v2.7h-2.7zM450.3,111.4h2.7v2.7h-2.7zM450.9,105.5h2.7v2.7h-2.7zM451.4,102.1h2.7v2.7h-2.7zM452.0,101.8h2.7v2.7h-2.7zM452.6,104.6h2.7v2.7h-2.7zM453.1,110.0h2.7v2.7h-2.7zM453.7,116.7h2.7v2.7h-2.7zM454.2,123.5h2.7v2.7h-2.7zM454.8,129.0h2.7v2.7h-2.7zM455.3,132.0h2.7v2.7h-2.7zM455.9,132.2h2.7v2.7h-2.7zM456.4,129.4h2.7v2.7h-2.7zM457.0,124.2h2.7v2.7h-2.7zM457.5,117.8h2.7v2.7h-2.7zM458.1,111.4h2.7v2.7h-2.7zM458.7,106.2h2.7v2.7h-2.7zM459.2,103.2h2.7v2.7h-2.7zM459.8,103.1h2.7v2.7h-2.7zM460.3,105.7h2.7v2.7h-2.7zM460.9,110.5h2.7v2.7h-2.7zM461.4,116.5h2.7v2.7h-2.7zM462.0,122.4h2.7v2.7h-2.7zM462.5,127.2h2.7v2.7h-2.7zM463.1,129.8h2.7v2.7h-2.7zM463.6,129.8h2.7v2.7h-2.7zM464.2,127.3h2.7v2.7h-2.7zM464.7,122.7h2.7v2.7h-2.7zM465.3,117.0h2.7v2.7h-2.7zM465.9,111.4h2.7v2.7h-2.7zM466.4,106.9h2.8v2.8h-2.8zM467.0,104.4h2.8v2.8h-2.8zM467.5,104.3h2.8v2.8h-2.8zM468.1,106.7h2.8v2.8h-2.8zM468.6,110.9h2.8v2.8h-2.8zM469.2,116.2h2.8v2.8h-2.8zM469.7,121.5h2.8v2.8h-2.8zM470.3,125.6h2.8v2.8h-2.8zM470.8,127.9h2.8v2.8h-2.8zM471.4,127.8h2.8v2.8h-2.8zM472.0,125.5h2.8v2.8h-2.8zM472.5,121.4h2.8v2.8h-2.8zM473.1,116.4h2.8v2.8h-2.8zM473.6,111.4h2.8v2.8h-2.8zM474.2,107.5h2.8v2.8h-2.8zM474.7,105.4h2.8v2.8h-2.8zM475.3,105.4h2.8v2.8h-2.8zM475.8,107.6h2.8v2.8h-2.8zM476.4,111.4h2.8v2.8h-2.8zM476.9,116.1h2.8v2.8h-2.8zM477.5,120.7h2.8v2.8h-2.8zM478.0,124.3h2.8v2.8h-2.8zM478.6,126.2h2.8v2.8h-2.8zM479.2,126.1h2.8v2.8h-2.8zM479.7,124.0h2.8v2.8h-2.8zM480.3,120.4h2.8v2.8h-2.8zM480.8,115.9h2.8v2.8h-2.8zM481.4,111.5h2.8v2.8h-2.8zM481.9,108.1h2.8v2.8h-2.8zM482.5,106.3h2.8v2.8h-2.8zM483.0,106.4h2.8v2.8h-2.8zM483.6,108.4h2.8v2.8h-2.8zM484.1,111.8h2.8v2.8h-2.8zM484.7,115.9h2.8v2.8h-2.8zM485.2,120.0h2.8v2.8h-2.8zM485.8,123.1h2.8v2.8h-2.8zM486.4,124.8h2.8v2.8h-2.8zM486.9,124.6h2.8v2.8h-2.8zM487.5,122.7h2.8v2.8h-2.8zM488.0,119.5h2.8v2.8h-2.8zM488.6,115.5h2.8v2.8h-2.8zM489.1,111.7h2.8v2.8h-2.8zM489.7,108.7h2.8v2.8h-2.8zM490.2,107.2h2.8v2.8h-2.8zM490.8,107.3h2.8v2.8h-2.8zM491.3,109.1h2.8v2.8h-2.8zM491.9,112.1h2.8v2.8h-2.8zM492.5,115.8h2.8v2.8h-2.8zM493.0,119.4h2.8v2.8h-2.8zM493.6,122.1h2.8v2.8h-2.8zM494.1,123.5h2.8v2.8h-2.8zM494.7,123.3h2.8v2.8h-2.8zM495.2,121.6h2.8v2.8h-2.8zM495.8,118.7h2.9v2.9h-2.9zM496.3,115.2h2.9v2.9h-2.9zM496.9,111.9h2.9v2.9h-2.9zM497.4,109.3h2.9v2.9h-2.9zM498.0,107.9h2.9v2.9h-2.9zM498.5,108.1h2.9v2.9h-2.9zM499.1,109.7h2.9v2.9h-2.9zM499.7,112.4h2.9v2.9h-2.9zM500.2,115.7h2.9v2.9h-2.9zM500.8,118.8h2.9v2.9h-2.9zM501.3,121.2h2.9v2.9h-2.9zM501.9,122.4h2.9v2.9h-2.9zM502.4,122.2h2.9v2.9h-2.9zM503.0,120.6h2.9v2.9h-2.9zM503.5,118.0h2.9v2.9h-2.9zM504.1,115.0h2.9v2.9h-2.9zM504.6,112.0h2.9v2.9h-2.9zM505.2,109.8h2.9v2.9h-2.9zM505.7,108.6h2.9v2.9h-2.9zM506.3,108.9h2.9v2.9h-2.9zM506.9,110.3h2.9v2.9h-2.9zM507.4,112.7h2.9v2.9h-2.9zM508.0,115.6h2.9v2.9h-2.9zM508.5,118.3h2.9v2.9h-2.9zM509.1,120.4h2.9v2.9h-2.9zM509.6,121.4h2.9v2.9h-2.9zM510.2,121.2h2.9v2.9h-2.9zM510.7,119.8h2.9v2.9h-2.9zM511.3,117.5h2.9v2.9h-2.9zM511.8,114.8h2.9v2.9h-2.9zM512.4,112.2h2.9v2.9h-2.9zM513.0,110.2h2.9v2.9h-2.9zM513.5,109.3h2.9v2.9h-2.9zM514.1,109.5h2.9v2.9h-2.9zM514.6,110.8h2.9v2.9h-2.9zM515.2,113.0h2.9v2.9h-2.9zM515.7,115.5h2.9v2.9h-2.9zM516.3,117.9h2.9v2.9h-2.9zM516.8,119.8h2.9v2.9h-2.9zM517.4,120.6h2.9v2.9h-2.9zM518.0,120.4h2.9v2.9h-2.9zM518.5,119.1h2.9v2.9h-2.9zM519.1,117.1h2.9v2.9h-2.9zM519.6,114.7h2.9v2.9h-2.9zM520.2,112.4h2.9v2.9h-2.9zM520.7,110.7h2.9v2.9h-2.9zM521.3,109.9h2.9v2.9h-2.9zM521.8,110.1h2.9v2.9h-2.9zM522.4,111.3h2.9v2.9h-2.9zM522.9,113.2h2.9v2.9h-2.9zM523.5,115.5h2.9v2.9h-2.9zM524.1,117.6h2.9v2.9h-2.9zM524.6,119.2h2.9v2.9h-2.9zM525.2,119.9h2.9v2.9h-2.9zM525.7,119.7h2.9v2.9h-2.9zM526.3,118.5h2.9v2.9h-2.9zM526.8,116.7h2.9v2.9h-2.9zM527.4,114.6h2.9v2.9h-2.9zM527.9,112.6h2.9v2.9h-2.9zM528.5,111.1h2.9v2.9h-2.9zM529.0,110.4h2.9v2.9h-2.9zM529.6,110.6h2.9v2.9h-2.9zM530.2,111.7h2.9v2.9h-2.9zM530.7,113.4h2.9v2.9h-2.9zM531.3,115.4h2.9v2.9h-2.9zM531.8,117.3h2.9v2.9h-2.9zM532.4,118.6h2.9v2.9h-2.9zM532.9,119.3h2.9v2.9h-2.9zM533.5,119.0h2.9v2.9h-2.9zM534.0,118.0h2.9v2.9h-2.9zM534.6,116.4h2.9v2.9h-2.9zM535.2,114.5h2.9v2.9h-2.9zM535.7,112.7h2.9v2.9h-2.9zM536.3,111.5h2.9v2.9h-2.9zM536.8,110.9h2.9v2.9h-2.9zM537.4,111.1h2.9v2.9h-2.9zM537.9,112.1h2.9v2.9h-2.9zM538.5,113.6h2.9v2.9h-2.9zM539.0,115.4h2.9v2.9h-2.9zM539.6,117.0h2.9v2.9h-2.9zM540.1,118.2h2.9v2.9h-2.9zM540.7,118.7h2.9v2.9h-2.9zM541.3,118.5h2.9v2.9h-2.9zM541.8,117.5h2.9v2.9h-2.9zM542.4,116.1h2.9v2.9h-2.9zM542.9,114.4h2.9v2.9h-2.9zM543.5,112.9h2.9v2.9h-2.9zM544.0,111.8h2.9v2.9h-2.9zM544.6,111.3h2.9v2.9h-2.9zM545.1,111.5h2.9v2.9h-2.9zM545.7,112.4h2.9v2.9h-2.9zM546.3,113.8h2.9v2.9h-2.9zM546.8,115.3h2.9v2.9h-2.9zM547.4,116.8h2.9v2.9h-2.9zM547.9,117.8h2.9v2.9h-2.9zM548.5,118.2h2.9v2.9h-2.9zM549.0,118.0h2.9v2.9h-2.9zM549.6,117.1h2.9v2.9h-2.9zM550.1,115.9h2.9v2.9h-2.9zM550.7,114.4h2.9v2.9h-2.9zM551.2,113.1h2.9v2.9h-2.9zM551.8,112.1h2.9v2.9h-2.9zM552.4,111.7h2.9v2.9h-2.9zM552.9,111.9h2.9v2.9h-2.9zM553.5,112.7h2.9v2.9h-2.9zM554.0,113.9h2.9v2.9h-2.9zM554.6,115.3h2.9v2.9h-2.9zM555.1,116.5h2.9v2.9h-2.9zM555.7,117.4h2.9v2.9h-2.9zM556.2,117.8h2.9v2.9h-2.9zM556.8,117.6h2.9v2.9h-2.9zM557.4,116.8h2.9v2.9h-2.9zM557.9,115.7h2.9v2.9h-2.9zM558.5,114.4h2.9v2.9h-2.9zM559.0,113.2h2.9v2.9h-2.9zM559.6,112.4h2.9v2.9h-2.9zM560.1,112.0h2.9v2.9h-2.9zM560.7,112.2h2.9v2.9h-2.9zM561.2,113.0h2.9v2.9h-2.9zM561.8,114.0h2.9v2.9h-2.9zM562.3,115.2h2.9v2.9h-2.9zM562.9,116.3h2.9v2.9h-2.9zM563.5,117.1h2.9v2.9h-2.9zM564.0,117.4h2.9v2.9h-2.9zM564.6,117.2h2.9v2.9h-2.9zM565.1,116.5h2.9v2.9h-2.9zM565.7,115.5h2.9v2.9h-2.9zM566.2,114.4h2.9v2.9h-2.9zM566.8,113.3h2.9v2.9h-2.9zM567.3,112.6h2.9v2.9h-2.9zM567.9,112.3h2.9v2.9h-2.9zM568.5,112.5h2.9v2.9h-2.9zM569.0,113.2h2.9v2.9h-2.9zM569.6,114.1h2.9v2.9h-2.9zM570.1,115.2h2.9v2.9h-2.9zM570.7,116.2h2.9v2.9h-2.9zM571.2,116.8h2.9v2.9h-2.9z" fill="#0000FF"/>
<path d="M364.0,220.6L364.5,219.0L364.9,214.9L367.0,187.4L367.4,184.3L367.8,183.1L368.0,183.3L368.3,184.2L368.8,188.2L370.8,213.8L371.3,217.0L371.7,217.9L372.2,216.6L372.7,212.7L374.7,189.4L375.2,186.4L375.6,185.5L376.1,186.6L376.6,190.3L378.6,212.0L379.1,214.8L379.5,215.7L379.9,214.9L380.3,212.5L382.3,191.8L382.9,188.5L383.3,187.5L383.8,188.2L384.2,190.4L386.2,209.7L386.7,212.9L387.2,213.9L387.7,213.1L388.2,210.2L390.2,192.0L390.7,189.7L391.1,189.1L391.6,190.0L392.1,192.9L394.1,209.6L394.6,211.8L395.0,212.4L395.5,211.6L396.0,208.9L398.0,193.1L398.4,191.1L398.9,190.5L399.3,191.2L399.9,193.7L401.9,208.9L402.3,210.6L402.7,211.2L403.1,210.6L403.6,209.0L405.6,194.6L406.1,192.3L406.6,191.6L407.0,192.1L407.4,193.6L409.5,207.2L410.0,209.4L410.5,210.2L410.9,209.6L411.5,207.5L413.5,194.6L414.0,193.0L414.4,192.5L414.9,193.2L415.4,195.2L417.4,207.3L417.8,208.8L418.2,209.3L418.7,208.7L419.2,206.8L421.2,195.3L421.7,193.8L422.1,193.3L422.6,193.9L423.1,195.7L425.1,206.9L425.6,208.1L426.0,208.6L426.4,208.2L426.8,207.0L428.9,196.3L429.4,194.6L429.9,194.0L430.3,194.4L430.7,195.5L432.7,205.7L433.2,207.4L433.7,207.9L434.1,207.6L434.6,206.5L436.6,196.6L437.2,195.0L437.6,194.6L438.1,195.1L438.6,196.6L440.6,205.8L441.1,207.0L441.5,207.4L442.0,206.9L442.5,205.4L444.5,196.6L445.0,195.5L445.4,195.1L445.8,195.5L446.2,196.4L448.2,205.1L448.8,206.5L449.2,206.9L449.7,206.6L450.1,205.7L452.1,197.3L452.6,196.0L453.1,195.6L453.5,195.9L454.0,196.9L456.0,204.7L456.5,206.0L457.0,206.5L457.4,206.2L457.8,205.4L459.9,197.5L460.4,196.3L460.9,196.0L461.3,196.3L461.7,197.1L463.7,204.4L464.2,205.7L464.7,206.1L465.1,205.9L465.6,205.0L467.6,197.8L468.2,196.7L468.6,196.3L469.0,196.6L469.5,197.4L471.5,204.3L472.0,205.4L472.5,205.8L472.9,205.5L473.3,204.8L475.4,198.1L475.9,197.0L476.4,196.6L476.8,196.9L477.3,197.7L479.2,204.0L479.8,205.1L480.2,205.5L480.6,205.2L481.1,204.6L483.2,198.2L483.7,197.2L484.2,196.9L484.6,197.2L485.0,197.9L487.0,203.8L487.5,204.8L488.0,205.2L488.4,205.0L488.9,204.3L490.9,198.4L491.4,197.5L491.9,197.2L492.3,197.4L492.7,198.1L494.8,203.7L495.3,204.6L495.8,204.9L496.2,204.7L496.6,204.1L498.6,198.6L499.2,197.7L499.6,197.4L500.0,197.6L500.5,198.3L502.5,203.5L503.0,204.4L503.5,204.7L503.9,204.5L504.4,203.9L506.4,198.8L506.9,197.9L507.4,197.7L507.8,197.8L508.2,198.5L510.2,203.4L510.8,204.2L511.2,204.5L511.6,204.3L512.1,203.7L514.2,198.9L514.7,198.1L515.1,197.9L515.6,198.0L516.0,198.6L518.0,203.2L518.5,204.0L519.0,204.3L519.4,204.1L519.8,203.6L521.9,199.0L522.4,198.3L522.9,198.1L523.3,198.2L523.8,198.8L525.8,203.1L526.2,203.8L526.7,204.1L527.1,204.0L527.6,203.5L529.6,199.2L530.1,198.5L530.6,198.2L531.0,198.4L531.5,198.9L533.5,203.0L534.0,203.7L534.5,203.9L534.9,203.8L535.4,203.3L537.4,199.2L537.9,198.6L538.4,198.4L539.2,199.0L541.2,202.9L541.7,203.5L542.2,203.8L542.6,203.7L543.1,203.2L545.1,199.4L545.7,198.7L546.1,198.5L546.6,198.7L547.0,199.2L549.0,202.7L549.9,203.6L550.4,203.5L550.8,203.1L552.9,199.5L553.4,198.9L553.9,198.7L554.3,198.8L554.8,199.3L556.7,202.6L557.6,203.5L558.1,203.4L558.6,203.0L560.7,199.5L561.2,199.0L561.7,198.8L562.5,199.4L564.4,202.5L565.3,203.3L565.8,203.3L566.3,202.9L568.4,199.6L568.9,199.1L569.4,199.0L570.3,199.5L572.2,202.4L573.0,203.2" fill="none" stroke="#FF0000" stroke-width="1.6" stroke-linejoin="round" />
<path d="M365.0,220.6a1.0,1.0 0 1,0 -2.0,0a1.0,1.0 0 1,0 2.0,0zM365.6,217.8a1.0,1.0 0 1,0 -2.0,0a1.0,1.0 0 1,0 2.0,0zM366.3,210.6a1.0,1.0 0 1,0 -2.0,0a1.0,1.0 0 1,0 2.0,0zM366.9,201.0a1.0,1.0 0 1,0 -2.0,0a1.0,1.0 0 1,0 2.0,0zM367.6,191.8a1.0,1.0 0 1,0 -2.0,0a1.0,1.0 0 1,0 2.0,0zM368.2,185.2a1.0,1.0 0 1,0 -2.0,0a1.0,1.0 0 1,0 2.0,0zM368.9,183.1a1.0,1.0 0 1,0 -2.0,0a1.0,1.0 0 1,0 2.0,0zM369.5,185.8a1.0,1.0 0 1,0 -2.0,0a1.0,1.0 0 1,0 2.0,0zM370.2,192.5a1.0,1.0 0 1,0 -2.0,0a1.0,1.0 0 1,0 2.0,0zM370.8,201.3a1.0,1.0 0 1,0 -2.0,0a1.0,1.0 0 1,0 2.0,0zM371.5,209.9a1.0,1.0 0 1,0 -2.0,0a1.0,1.0 0 1,0 2.0,0zM372.1,215.9a1.0,1.0 0 1,0 -2.0,0a1.0,1.0 0 1,0 2.0,0zM372.8,217.9a1.0,1.0 0 1,0 -2.0,0a1.0,1.0 0 1,0 2.0,0zM373.4,215.3a1.0,1.0 0 1,0 -2.0,0a1.0,1.0 0 1,0 2.0,0zM374.1,209.1a1.0,1.0 0 1,0 -2.0,0a1.0,1.0 0 1,0 2.0,0zM374.7,200.8a1.0,1.0 0 1,0 -2.0,0a1.0,1.0 0 1,0 2.0,0zM375.4,192.9a1.0,1.0 0 1,0 -2.0,0a1.0,1.0 0 1,0 2.0,0zM376.0,187.3a1.0,1.0 0 1,0 -2.0,0a1.0,1.0 0 1,0 2.0,0zM376.7,185.5a1.0,1.0 0 1,0 -2.0,0a1.0,1.0 0 1,0 2.0,0zM377.3,188.0a1.0,1.0 0 1,0 -2.0,0a1.0,1.0 0 1,0 2.0,0zM377.9,193.8a1.0,1.0 0 1,0 -2.0,0a1.0,1.0 0 1,0 2.0,0zM378.6,201.5a1.0,1.0 0 1,0 -2.0,0a1.0,1.0 0 1,0 2.0,0zM379.2,208.9a1.0,1.0 0 1,0 -2.0,0a1.0,1.0 0 1,0 2.0,0zM379.9,214.1a1.0,1.0 0 1,0 -2.0,0a1.0,1.0 0 1,0 2.0,0zM380.5,215.7a1.0,1.0 0 1,0 -2.0,0a1.0,1.0 0 1,0 2.0,0zM381.2,213.4a1.0,1.0 0 1,0 -2.0,0a1.0,1.0 0 1,0 2.0,0zM381.8,207.8a1.0,1.0 0 1,0 -2.0,0a1.0,1.0 0 1,0 2.0,0zM382.5,200.6a1.0,1.0 0 1,0 -2.0,0a1.0,1.0 0 1,0 2.0,0zM383.1,193.7a1.0,1.0 0 1,0 -2.0,0a1.0,1.0 0 1,0 2.0,0zM383.8,189.0a1.0,1.0 0 1,0 -2.0,0a1.0,1.0 0 1,0 2.0,0zM384.4,187.5a1.0,1.0 0 1,0 -2.0,0a1.0,1.0 0 1,0 2.0,0zM385.1,189.7a1.0,1.0 0 1,0 -2.0,0a1.0,1.0 0 1,0 2.0,0zM385.7,194.9a1.0,1.0 0 1,0 -2.0,0a1.0,1.0 0 1,0 2.0,0zM386.4,201.7a1.0,1.0 0 1,0 -2.0,0a1.0,1.0 0 1,0 2.0,0zM387.0,208.1a1.0,1.0 0 1,0 -2.0,0a1.0,1.0 0 1,0 2.0,0zM387.7,212.6a1.0,1.0 0 1,0 -2.0,0a1.0,1.0 0 1,0 2.0,0zM388.3,213.9a1.0,1.0 0 1,0 -2.0,0a1.0,1.0 0 1,0 2.0,0zM389.0,211.8a1.0,1.0 0 1,0 -2.0,0a1.0,1.0 0 1,0 2.0,0zM389.6,206.8a1.0,1.0 0 1,0 -2.0,0a1.0,1.0 0 1,0 2.0,0zM390.3,200.5a1.0,1.0 0 1,0 -2.0,0a1.0,1.0 0 1,0 2.0,0zM390.9,194.5a1.0,1.0 0 1,0 -2.0,0a1.0,1.0 0 1,0 2.0,0zM391.5,190.3a1.0,1.0 0 1,0 -2.0,0a1.0,1.0 0 1,0 2.0,0zM392.2,189.2a1.0,1.0 0 1,0 -2.0,0a1.0,1.0 0 1,0 2.0,0zM392.8,191.2a1.0,1.0 0 1,0 -2.0,0a1.0,1.0 0 1,0 2.0,0zM393.5,195.8a1.0,1.0 0 1,0 -2.0,0a1.0,1.0 0 1,0 2.0,0zM394.1,201.8a1.0,1.0 0 1,0 -2.0,0a1.0,1.0 0 1,0 2.0,0zM394.8,207.4a1.0,1.0 0 1,0 -2.0,0a1.0,1.0 0 1,0 2.0,0zM395.4,211.3a1.0,1.0 0 1,0 -2.0,0a1.0,1.0 0 1,0 2.0,0zM396.1,212.4a1.0,1.0 0 1,0 -2.0,0a1.0,1.0 0 1,0 2.0,0zM396.7,210.4a1.0,1.0 0 1,0 -2.0,0a1.0,1.0 0 1,0 2.0,0zM397.4,206.0a1.0,1.0 0 1,0 -2.0,0a1.0,1.0 0 1,0 2.0,0zM398.0,200.4a1.0,1.0 0 1,0 -2.0,0a1.0,1.0 0 1,0 2.0,0zM398.7,195.1a1.0,1.0 0 1,0 -2.0,0a1.0,1.0 0 1,0 2.0,0zM399.3,191.5a1.0,1.0 0 1,0 -2.0,0a1.0,1.0 0 1,0 2.0,0zM400.0,190.5a1.0,1.0 0 1,0 -2.0,0a1.0,1.0 0 1,0 2.0,0zM400.6,192.4a1.0,1.0 0 1,0 -2.0,0a1.0,1.0 0 1,0 2.0,0zM401.3,196.5a1.0,1.0 0 1,0 -2.0,0a1.0,1.0 0 1,0 2.0,0zM401.9,201.9a1.0,1.0 0 1,0 -2.0,0a1.0,1.0 0 1,0 2.0,0zM402.6,206.9a1.0,1.0 0 1,0 -2.0,0a1.0,1.0 0 1,0 2.0,0zM403.2,210.3a1.0,1.0 0 1,0 -2.0,0a1.0,1.0 0 1,0 2.0,0zM403.8,211.1a1.0,1.0 0 1,0 -2.0,0a1.0,1.0 0 1,0 2.0,0zM404.5,209.3a1.0,1.0 0 1,0 -2.0,0a1.0,1.0 0 1,0 2.0,0zM405.1,205.4a1.0,1.0 0 1,0 -2.0,0a1.0,1.0 0 1,0 2.0,0zM405.8,200.4a1.0,1.0 0 1,0 -2.0,0a1.0,1.0 0 1,0 2.0,0zM406.4,195.6a1.0,1.0 0 1,0 -2.0,0a1.0,1.0 0 1,0 2.0,0zM407.1,192.4a1.0,1.0 0 1,0 -2.0,0a1.0,1.0 0 1,0 2.0,0zM407.7,191.6a1.0,1.0 0 1,0 -2.0,0a1.0,1.0 0 1,0 2.0,0zM408.4,193.4a1.0,1.0 0 1,0 -2.0,0a1.0,1.0 0 1,0 2.0,0zM409.0,197.2a1.0,1.0 0 1,0 -2.0,0a1.0,1.0 0 1,0 2.0,0zM409.7,201.9a1.0,1.0 0 1,0 -2.0,0a1.0,1.0 0 1,0 2.0,0zM410.3,206.4a1.0,1.0 0 1,0 -2.0,0a1.0,1.0 0 1,0 2.0,0zM411.0,209.4a1.0,1.0 0 1,0 -2.0,0a1.0,1.0 0 1,0 2.0,0zM411.6,210.1a1.0,1.0 0 1,0 -2.0,0a1.0,1.0 0 1,0 2.0,0zM412.3,208.4a1.0,1.0 0 1,0 -2.0,0a1.0,1.0 0 1,0 2.0,0zM412.9,204.8a1.0,1.0 0 1,0 -2.0,0a1.0,1.0 0 1,0 2.0,0zM413.6,200.3a1.0,1.0 0 1,0 -2.0,0a1.0,1.0 0 1,0 2.0,0zM414.2,196.1a1.0,1.0 0 1,0 -2.0,0a1.0,1.0 0 1,0 2.0,0zM414.9,193.3a1.0,1.0 0 1,0 -2.0,0a1.0,1.0 0 1,0 2.0,0zM415.5,192.6a1.0,1.0 0 1,0 -2.0,0a1.0,1.0 0 1,0 2.0,0zM416.2,194.2a1.0,1.0 0 1,0 -2.0,0a1.0,1.0 0 1,0 2.0,0zM416.8,197.7a1.0,1.0 0 1,0 -2.0,0a1.0,1.0 0 1,0 2.0,0zM417.4,202.0a1.0,1.0 0 1,0 -2.0,0a1.0,1.0 0 1,0 2.0,0zM418.1,206.0a1.0,1.0 0 1,0 -2.0,0a1.0,1.0 0 1,0 2.0,0zM418.7,208.6a1.0,1.0 0 1,0 -2.0,0a1.0,1.0 0 1,0 2.0,0zM419.4,209.2a1.0,1.0 0 1,0 -2.0,0a1.0,1.0 0 1,0 2.0,0zM420.0,207.7a1.0,1.0 0 1,0 -2.0,0a1.0,1.0 0 1,0 2.0,0zM420.7,204.4a1.0,1.0 0 1,0 -2.0,0a1.0,1.0 0 1,0 2.0,0zM421.3,200.3a1.0,1.0 0 1,0 -2.0,0a1.0,1.0 0 1,0 2.0,0zM422.0,196.4a1.0,1.0 0 1,0 -2.0,0a1.0,1.0 0 1,0 2.0,0zM422.6,193.9a1.0,1.0 0 1,0 -2.0,0a1.0,1.0 0 1,0 2.0,0zM423.3,193.4a1.0,1.0 0 1,0 -2.0,0a1.0,1.0 0 1,0 2.0,0zM423.9,194.9a1.0,1.0 0 1,0 -2.0,0a1.0,1.0 0 1,0 2.0,0zM424.6,198.1a1.0,1.0 0 1,0 -2.0,0a1.0,1.0 0 1,0 2.0,0zM425.2,202.0a1.0,1.0 0 1,0 -2.0,0a1.0,1.0 0 1,0 2.0,0zM425.9,205.6a1.0,1.0 0 1,0 -2.0,0a1.0,1.0 0 1,0 2.0,0zM426.5,208.0a1.0,1.0 0 1,0 -2.0,0a1.0,1.0 0 1,0 2.0,0zM427.2,208.5a1.0,1.0 0 1,0 -2.0,0a1.0,1.0 0 1,0 2.0,0zM427.8,207.0a1.0,1.0 0 1,0 -2.0,0a1.0,1.0 0 1,0 2.0,0zM428.5,204.0a1.0,1.0 0 1,0 -2.0,0a1.0,1.0 0 1,0 2.0,0zM429.1,200.2a1.0,1.0 0 1,0 -2.0,0a1.0,1.0 0 1,0 2.0,0zM429.8,196.8a1.0,1.0 0 1,0 -2.0,0a1.0,1.0 0 1,0 2.0,0zM430.4,194.5a1.0,1.0 0 1,0 -2.0,0a1.0,1.0 0 1,0 2.0,0zM431.0,194.1a1.0,1.0 0 1,0 -2.0,0a1.0,1.0 0 1,0 2.0,0zM431.7,195.5a1.0,1.0 0 1,0 -2.0,0a1.0,1.0 0 1,0 2.0,0zM432.3,198.4a1.0,1.0 0 1,0 -2.0,0a1.0,1.0 0 1,0 2.0,0zM433.0,202.0a1.0,1.0 0 1,0 -2.0,0a1.0,1.0 0 1,0 2.0,0zM433.6,205.3a1.0,1.0 0 1,0 -2.0,0a1.0,1.0 0 1,0 2.0,0zM434.3,207.4a1.0,1.0 0 1,0 -2.0,0a1.0,1.0 0 1,0 2.0,0zM434.9,207.8a1.0,1.0 0 1,0 -2.0,0a1.0,1.0 0 1,0 2.0,0zM435.6,206.4a1.0,1.0 0 1,0 -2.0,0a1.0,1.0 0 1,0 2.0,0zM436.2,203.6a1.0,1.0 0 1,0 -2.0,0a1.0,1.0 0 1,0 2.0,0zM436.9,200.2a1.0,1.0 0 1,0 -2.0,0a1.0,1.0 0 1,0 2.0,0zM437.5,197.1a1.0,1.0 0 1,0 -2.0,0a1.0,1.0 0 1,0 2.0,0zM438.2,195.0a1.0,1.0 0 1,0 -2.0,0a1.0,1.0 0 1,0 2.0,0zM438.8,194.7a1.0,1.0 0 1,0 -2.0,0a1.0,1.0 0 1,0 2.0,0zM439.5,196.0a1.0,1.0 0 1,0 -2.0,0a1.0,1.0 0 1,0 2.0,0zM440.1,198.7a1.0,1.0 0 1,0 -2.0,0a1.0,1.0 0 1,0 2.0,0zM440.8,202.0a1.0,1.0 0 1,0 -2.0,0a1.0,1.0 0 1,0 2.0,0zM441.4,205.1a1.0,1.0 0 1,0 -2.0,0a1.0,1.0 0 1,0 2.0,0zM442.1,207.0a1.0,1.0 0 1,0 -2.0,0a1.0,1.0 0 1,0 2.0,0zM442.7,207.3a1.0,1.0 0 1,0 -2.0,0a1.0,1.0 0 1,0 2.0,0zM443.3,206.0a1.0,1.0 0 1,0 -2.0,0a1.0,1.0 0 1,0 2.0,0zM444.0,203.4a1.0,1.0 0 1,0 -2.0,0a1.0,1.0 0 1,0 2.0,0zM444.6,200.2a1.0,1.0 0 1,0 -2.0,0a1.0,1.0 0 1,0 2.0,0zM445.3,197.3a1.0,1.0 0 1,0 -2.0,0a1.0,1.0 0 1,0 2.0,0zM445.9,195.5a1.0,1.0 0 1,0 -2.0,0a1.0,1.0 0 1,0 2.0,0zM446.6,195.2a1.0,1.0 0 1,0 -2.0,0a1.0,1.0 0 1,0 2.0,0zM447.2,196.5a1.0,1.0 0 1,0 -2.0,0a1.0,1.0 0 1,0 2.0,0zM447.9,199.0a1.0,1.0 0 1,0 -2.0,0a1.0,1.0 0 1,0 2.0,0zM448.5,202.1a1.0,1.0 0 1,0 -2.0,0a1.0,1.0 0 1,0 2.0,0zM449.2,204.8a1.0,1.0 0 1,0 -2.0,0a1.0,1.0 0 1,0 2.0,0zM449.8,206.5a1.0,1.0 0 1,0 -2.0,0a1.0,1.0 0 1,0 2.0,0zM450.5,206.8a1.0,1.0 0 1,0 -2.0,0a1.0,1.0 0 1,0 2.0,0zM451.1,205.5a1.0,1.0 0 1,0 -2.0,0a1.0,1.0 0 1,0 2.0,0zM451.8,203.1a1.0,1.0 0 1,0 -2.0,0a1.0,1.0 0 1,0 2.0,0zM452.4,200.2a1.0,1.0 0 1,0 -2.0,0a1.0,1.0 0 1,0 2.0,0zM453.1,197.5a1.0,1.0 0 1,0 -2.0,0a1.0,1.0 0 1,0 2.0,0zM453.7,195.9a1.0,1.0 0 1,0 -2.0,0a1.0,1.0 0 1,0 2.0,0zM454.4,195.7a1.0,1.0 0 1,0 -2.0,0a1.0,1.0 0 1,0 2.0,0zM455.0,196.9a1.0,1.0 0 1,0 -2.0,0a1.0,1.0 0 1,0 2.0,0zM455.7,199.3a1.0,1.0 0 1,0 -2.0,0a1.0,1.0 0 1,0 2.0,0zM456.3,202.1a1.0,1.0 0 1,0 -2.0,0a1.0,1.0 0 1,0 2.0,0zM456.9,204.6a1.0,1.0 0 1,0 -2.0,0a1.0,1.0 0 1,0 2.0,0zM457.6,206.2a1.0,1.0 0 1,0 -2.0,0a1.0,1.0 0 1,0 2.0,0zM458.2,206.4a1.0,1.0 0 1,0 -2.0,0a1.0,1.0 0 1,0 2.0,0zM458.9,205.2a1.0,1.0 0 1,0 -2.0,0a1.0,1.0 0 1,0 2.0,0zM459.5,202.9a1.0,1.0 0 1,0 -2.0,0a1.0,1.0 0 1,0 2.0,0zM460.2,200.2a1.0,1.0 0 1,0 -2.0,0a1.0,1.0 0 1,0 2.0,0zM460.8,197.7a1.0,1.0 0 1,0 -2.0,0a1.0,1.0 0 1,0 2.0,0zM461.5,196.2a1.0,1.0 0 1,0 -2.0,0a1.0,1.0 0 1,0 2.0,0zM462.1,196.1a1.0,1.0 0 1,0 -2.0,0a1.0,1.0 0 1,0 2.0,0zM462.8,197.2a1.0,1.0 0 1,0 -2.0,0a1.0,1.0 0 1,0 2.0,0zM463.4,199.5a1.0,1.0 0 1,0 -2.0,0a1.0,1.0 0 1,0 2.0,0zM464.1,202.1a1.0,1.0 0 1,0 -2.0,0a1.0,1.0 0 1,0 2.0,0zM464.7,204.4a1.0,1.0 0 1,0 -2.0,0a1.0,1.0 0 1,0 2.0,0zM465.4,205.8a1.0,1.0 0 1,0 -2.0,0a1.0,1.0 0 1,0 2.0,0zM466.0,206.0a1.0,1.0 0 1,0 -2.0,0a1.0,1.0 0 1,0 2.0,0zM466.7,204.8a1.0,1.0 0 1,0 -2.0,0a1.0,1.0 0 1,0 2.0,0zM467.3,202.7a1.0,1.0 0 1,0 -2.0,0a1.0,1.0 0 1,0 2.0,0zM468.0,200.2a1.0,1.0 0 1,0 -2.0,0a1.0,1.0 0 1,0 2.0,0zM468.6,197.9a1.0,1.0 0 1,0 -2.0,0a1.0,1.0 0 1,0 2.0,0zM469.2,196.6a1.0,1.0 0 1,0 -2.0,0a1.0,1.0 0 1,0 2.0,0zM469.9,196.4a1.0,1.0 0 1,0 -2.0,0a1.0,1.0 0 1,0 2.0,0zM470.5,197.6a1.0,1.0 0 1,0 -2.0,0a1.0,1.0 0 1,0 2.0,0zM471.2,199.6a1.0,1.0 0 1,0 -2.0,0a1.0,1.0 0 1,0 2.0,0zM471.8,202.1a1.0,1.0 0 1,0 -2.0,0a1.0,1.0 0 1,0 2.0,0zM472.5,204.2a1.0,1.0 0 1,0 -2.0,0a1.0,1.0 0 1,0 2.0,0zM473.1,205.5a1.0,1.0 0 1,0 -2.0,0a1.0,1.0 0 1,0 2.0,0zM473.8,205.6a1.0,1.0 0 1,0 -2.0,0a1.0,1.0 0 1,0 2.0,0zM474.4,204.5a1.0,1.0 0 1,0 -2.0,0a1.0,1.0 0 1,0 2.0,0zM475.1,202.5a1.0,1.0 0 1,0 -2.0,0a1.0,1.0 0 1,0 2.0,0zM475.7,200.2a1.0,1.0 0 1,0 -2.0,0a1.0,1.0 0 1,0 2.0,0zM476.4,198.1a1.0,1.0 0 1,0 -2.0,0a1.0,1.0 0 1,0 2.0,0zM477.0,196.8a1.0,1.0 0 1,0 -2.0,0a1.0,1.0 0 1,0 2.0,0zM477.7,196.8a1.0,1.0 0 1,0 -2.0,0a1.0,1.0 0 1,0 2.0,0zM478.3,197.8a1.0,1.0 0 1,0 -2.0,0a1.0,1.0 0 1,0 2.0,0zM479.0,199.8a1.0,1.0 0 1,0 -2.0,0a1.0,1.0 0 1,0 2.0,0zM479.6,202.1a1.0,1.0 0 1,0 -2.0,0a1.0,1.0 0 1,0 2.0,0zM480.3,204.1a1.0,1.0 0 1,0 -2.0,0a1.0,1.0 0 1,0 2.0,0zM480.9,205.3a1.0,1.0 0 1,0 -2.0,0a1.0,1.0 0 1,0 2.0,0zM481.6,205.3a1.0,1.0 0 1,0 -2.0,0a1.0,1.0 0 1,0 2.0,0zM482.2,204.3a1.0,1.0 0 1,0 -2.0,0a1.0,1.0 0 1,0 2.0,0zM482.8,202.4a1.0,1.0 0 1,0 -2.0,0a1.0,1.0 0 1,0 2.0,0zM483.5,200.2a1.0,1.0 0 1,0 -2.0,0a1.0,1.0 0 1,0 2.0,0zM484.1,198.2a1.0,1.0 0 1,0 -2.0,0a1.0,1.0 0 1,0 2.0,0zM484.8,197.1a1.0,1.0 0 1,0 -2.0,0a1.0,1.0 0 1,0 2.0,0zM485.4,197.1a1.0,1.0 0 1,0 -2.0,0a1.0,1.0 0 1,0 2.0,0zM486.1,198.1a1.0,1.0 0 1,0 -2.0,0a1.0,1.0 0 1,0 2.0,0zM486.7,199.9a1.0,1.0 0 1,0 -2.0,0a1.0,1.0 0 1,0 2.0,0zM487.4,202.1a1.0,1.0 0 1,0 -2.0,0a1.0,1.0 0 1,0 2.0,0zM488.0,203.9a1.0,1.0 0 1,0 -2.0,0a1.0,1.0 0 1,0 2.0,0zM488.7,205.0a1.0,1.0 0 1,0 -2.0,0a1.0,1.0 0 1,0 2.0,0zM489.3,205.1a1.0,1.0 0 1,0 -2.0,0a1.0,1.0 0 1,0 2.0,0zM490.0,204.0a1.0,1.0 0 1,0 -2.0,0a1.0,1.0 0 1,0 2.0,0zM490.6,202.2a1.0,1.0 0 1,0 -2.0,0a1.0,1.0 0 1,0 2.0,0zM491.3,200.2a1.0,1.0 0 1,0 -2.0,0a1.0,1.0 0 1,0 2.0,0zM491.9,198.4a1.0,1.0 0 1,0 -2.0,0a1.0,1.0 0 1,0 2.0,0zM492.6,197.3a1.0,1.0 0 1,0 -2.0,0a1.0,1.0 0 1,0 2.0,0zM493.2,197.3a1.0,1.0 0 1,0 -2.0,0a1.0,1.0 0 1,0 2.0,0zM493.9,198.3a1.0,1.0 0 1,0 -2.0,0a1.0,1.0 0 1,0 2.0,0zM494.5,200.1a1.0,1.0 0 1,0 -2.0,0a1.0,1.0 0 1,0 2.0,0zM495.1,202.1a1.0,1.0 0 1,0 -2.0,0a1.0,1.0 0 1,0 2.0,0zM495.8,203.8a1.0,1.0 0 1,0 -2.0,0a1.0,1.0 0 1,0 2.0,0zM496.4,204.8a1.0,1.0 0 1,0 -2.0,0a1.0,1.0 0 1,0 2.0,0zM497.1,204.8a1.0,1.0 0 1,0 -2.0,0a1.0,1.0 0 1,0 2.0,0zM497.7,203.8a1.0,1.0 0 1,0 -2.0,0a1.0,1.0 0 1,0 2.0,0zM498.4,202.1a1.0,1.0 0 1,0 -2.0,0a1.0,1.0 0 1,0 2.0,0zM499.0,200.2a1.0,1.0 0 1,0 -2.0,0a1.0,1.0 0 1,0 2.0,0zM499.7,198.5a1.0,1.0 0 1,0 -2.0,0a1.0,1.0 0 1,0 2.0,0zM500.3,197.6a1.0,1.0 0 1,0 -2.0,0a1.0,1.0 0 1,0 2.0,0zM501.0,197.6a1.0,1.0 0 1,0 -2.0,0a1.0,1.0 0 1,0 2.0,0zM501.6,198.5a1.0,1.0 0 1,0 -2.0,0a1.0,1.0 0 1,0 2.0,0zM502.3,200.2a1.0,1.0 0 1,0 -2.0,0a1.0,1.0 0 1,0 2.0,0zM502.9,202.1a1.0,1.0 0 1,0 -2.0,0a1.0,1.0 0 1,0 2.0,0zM503.6,203.7a1.0,1.0 0 1,0 -2.0,0a1.0,1.0 0 1,0 2.0,0zM504.2,204.6a1.0,1.0 0 1,0 -2.0,0a1.0,1.0 0 1,0 2.0,0zM504.9,204.6a1.0,1.0 0 1,0 -2.0,0a1.0,1.0 0 1,0 2.0,0zM505.5,203.6a1.0,1.0 0 1,0 -2.0,0a1.0,1.0 0 1,0 2.0,0zM506.2,202.0a1.0,1.0 0 1,0 -2.0,0a1.0,1.0 0 1,0 2.0,0zM506.8,200.2a1.0,1.0 0 1,0 -2.0,0a1.0,1.0 0 1,0 2.0,0zM507.5,198.6a1.0,1.0 0 1,0 -2.0,0a1.0,1.0 0 1,0 2.0,0zM508.1,197.8a1.0,1.0 0 1,0 -2.0,0a1.0,1.0 0 1,0 2.0,0zM508.7,197.8a1.0,1.0 0 1,0 -2.0,0a1.0,1.0 0 1,0 2.0,0zM509.4,198.7a1.0,1.0 0 1,0 -2.0,0a1.0,1.0 0 1,0 2.0,0zM510.0,200.3a1.0,1.0 0 1,0 -2.0,0a1.0,1.0 0 1,0 2.0,0zM510.7,202.1a1.0,1.0 0 1,0 -2.0,0a1.0,1.0 0 1,0 2.0,0zM511.3,203.6a1.0,1.0 0 1,0 -2.0,0a1.0,1.0 0 1,0 2.0,0zM512.0,204.4a1.0,1.0 0 1,0 -2.0,0a1.0,1.0 0 1,0 2.0,0zM512.6,204.3a1.0,1.0 0 1,0 -2.0,0a1.0,1.0 0 1,0 2.0,0zM513.3,203.4a1.0,1.0 0 1,0 -2.0,0a1.0,1.0 0 1,0 2.0,0zM513.9,201.9a1.0,1.0 0 1,0 -2.0,0a1.0,1.0 0 1,0 2.0,0zM514.6,200.2a1.0,1.0 0 1,0 -2.0,0a1.0,1.0 0 1,0 2.0,0zM515.2,198.7a1.0,1.0 0 1,0 -2.0,0a1.0,1.0 0 1,0 2.0,0zM515.9,197.9a1.0,1.0 0 1,0 -2.0,0a1.0,1.0 0 1,0 2.0,0zM516.5,198.0a1.0,1.0 0 1,0 -2.0,0a1.0,1.0 0 1,0 2.0,0zM517.2,198.9a1.0,1.0 0 1,0 -2.0,0a1.0,1.0 0 1,0 2.0,0zM517.8,200.4a1.0,1.0 0 1,0 -2.0,0a1.0,1.0 0 1,0 2.0,0zM518.5,202.1a1.0,1.0 0 1,0 -2.0,0a1.0,1.0 0 1,0 2.0,0zM519.1,203.4a1.0,1.0 0 1,0 -2.0,0a1.0,1.0 0 1,0 2.0,0zM519.8,204.2a1.0,1.0 0 1,0 -2.0,0a1.0,1.0 0 1,0 2.0,0zM520.4,204.1a1.0,1.0 0 1,0 -2.0,0a1.0,1.0 0 1,0 2.0,0zM521.0,203.2a1.0,1.0 0 1,0 -2.0,0a1.0,1.0 0 1,0 2.0,0zM521.7,201.8a1.0,1.0 0 1,0 -2.0,0a1.0,1.0 0 1,0 2.0,0zM522.3,200.2a1.0,1.0 0 1,0 -2.0,0a1.0,1.0 0 1,0 2.0,0zM523.0,198.8a1.0,1.0 0 1,0 -2.0,0a1.0,1.0 0 1,0 2.0,0zM523.6,198.1a1.0,1.0 0 1,0 -2.0,0a1.0,1.0 0 1,0 2.0,0zM524.3,198.2a1.0,1.0 0 1,0 -2.0,0a1.0,1.0 0 1,0 2.0,0zM524.9,199.1a1.0,1.0 0 1,0 -2.0,0a1.0,1.0 0 1,0 2.0,0zM525.6,200.5a1.0,1.0 0 1,0 -2.0,0a1.0,1.0 0 1,0 2.0,0zM526.2,202.0a1.0,1.0 0 1,0 -2.0,0a1.0,1.0 0 1,0 2.0,0zM526.9,203.3a1.0,1.0 0 1,0 -2.0,0a1.0,1.0 0 1,0 2.0,0zM527.5,204.0a1.0,1.0 0 1,0 -2.0,0a1.0,1.0 0 1,0 2.0,0zM528.2,203.9a1.0,1.0 0 1,0 -2.0,0a1.0,1.0 0 1,0 2.0,0zM528.8,203.1a1.0,1.0 0 1,0 -2.0,0a1.0,1.0 0 1,0 2.0,0zM529.5,201.7a1.0,1.0 0 1,0 -2.0,0a1.0,1.0 0 1,0 2.0,0zM530.1,200.2a1.0,1.0 0 1,0 -2.0,0a1.0,1.0 0 1,0 2.0,0zM530.8,198.9a1.0,1.0 0 1,0 -2.0,0a1.0,1.0 0 1,0 2.0,0zM531.4,198.3a1.0,1.0 0 1,0 -2.0,0a1.0,1.0 0 1,0 2.0,0zM532.1,198.4a1.0,1.0 0 1,0 -2.0,0a1.0,1.0 0 1,0 2.0,0zM532.7,199.2a1.0,1.0 0 1,0 -2.0,0a1.0,1.0 0 1,0 2.0,0zM533.4,200.6a1.0,1.0 0 1,0 -2.0,0a1.0,1.0 0 1,0 2.0,0zM534.0,202.0a1.0,1.0 0 1,0 -2.0,0a1.0,1.0 0 1,0 2.0,0zM534.6,203.2a1.0,1.0 0 1,0 -2.0,0a1.0,1.0 0 1,0 2.0,0zM535.3,203.9a1.0,1.0 0 1,0 -2.0,0a1.0,1.0 0 1,0 2.0,0zM535.9,203.8a1.0,1.0 0 1,0 -2.0,0a1.0,1.0 0 1,0 2.0,0zM536.6,202.9a1.0,1.0 0 1,0 -2.0,0a1.0,1.0 0 1,0 2.0,0zM537.2,201.6a1.0,1.0 0 1,0 -2.0,0a1.0,1.0 0 1,0 2.0,0zM537.9,200.2a1.0,1.0 0 1,0 -2.0,0a1.0,1.0 0 1,0 2.0,0zM538.5,199.0a1.0,1.0 0 1,0 -2.0,0a1.0,1.0 0 1,0 2.0,0zM539.2,198.4a1.0,1.0 0 1,0 -2.0,0a1.0,1.0 0 1,0 2.0,0zM539.8,198.6a1.0,1.0 0 1,0 -2.0,0a1.0,1.0 0 1,0 2.0,0zM540.5,199.4a1.0,1.0 0 1,0 -2.0,0a1.0,1.0 0 1,0 2.0,0zM541.1,200.6a1.0,1.0 0 1,0 -2.0,0a1.0,1.0 0 1,0 2.0,0zM541.8,202.0a1.0,1.0 0 1,0 -2.0,0a1.0,1.0 0 1,0 2.0,0zM542.4,203.1a1.0,1.0 0 1,0 -2.0,0a1.0,1.0 0 1,0 2.0,0zM543.1,203.7a1.0,1.0 0 1,0 -2.0,0a1.0,1.0 0 1,0 2.0,0zM543.7,203.6a1.0,1.0 0 1,0 -2.0,0a1.0,1.0 0 1,0 2.0,0zM544.4,202.8a1.0,1.0 0 1,0 -2.0,0a1.0,1.0 0 1,0 2.0,0zM545.0,201.6a1.0,1.0 0 1,0 -2.0,0a1.0,1.0 0 1,0 2.0,0zM545.7,200.2a1.0,1.0 0 1,0 -2.0,0a1.0,1.0 0 1,0 2.0,0zM546.3,199.1a1.0,1.0 0 1,0 -2.0,0a1.0,1.0 0 1,0 2.0,0zM546.9,198.6a1.0,1.0 0 1,0 -2.0,0a1.0,1.0 0 1,0 2.0,0zM547.6,198.7a1.0,1.0 0 1,0 -2.0,0a1.0,1.0 0 1,0 2.0,0zM548.2,199.5a1.0,1.0 0 1,0 -2.0,0a1.0,1.0 0 1,0 2.0,0zM548.9,200.7a1.0,1.0 0 1,0 -2.0,0a1.0,1.0 0 1,0 2.0,0zM549.5,202.0a1.0,1.0 0 1,0 -2.0,0a1.0,1.0 0 1,0 2.0,0zM550.2,203.1a1.0,1.0 0 1,0 -2.0,0a1.0,1.0 0 1,0 2.0,0zM550.8,203.6a1.0,1.0 0 1,0 -2.0,0a1.0,1.0 0 1,0 2.0,0zM551.5,203.4a1.0,1.0 0 1,0 -2.0,0a1.0,1.0 0 1,0 2.0,0zM552.1,202.7a1.0,1.0 0 1,0 -2.0,0a1.0,1.0 0 1,0 2.0,0zM552.8,201.5a1.0,1.0 0 1,0 -2.0,0a1.0,1.0 0 1,0 2.0,0zM553.4,200.2a1.0,1.0 0 1,0 -2.0,0a1.0,1.0 0 1,0 2.0,0zM554.1,199.2a1.0,1.0 0 1,0 -2.0,0a1.0,1.0 0 1,0 2.0,0zM554.7,198.7a1.0,1.0 0 1,0 -2.0,0a1.0,1.0 0 1,0 2.0,0zM555.4,198.9a1.0,1.0 0 1,0 -2.0,0a1.0,1.0 0 1,0 2.0,0zM556.0,199.6a1.0,1.0 0 1,0 -2.0,0a1.0,1.0 0 1,0 2.0,0zM556.7,200.8a1.0,1.0 0 1,0 -2.0,0a1.0,1.0 0 1,0 2.0,0zM557.3,202.0a1.0,1.0 0 1,0 -2.0,0a1.0,1.0 0 1,0 2.0,0zM558.0,203.0a1.0,1.0 0 1,0 -2.0,0a1.0,1.0 0 1,0 2.0,0zM558.6,203.5a1.0,1.0 0 1,0 -2.0,0a1.0,1.0 0 1,0 2.0,0zM559.3,203.3a1.0,1.0 0 1,0 -2.0,0a1.0,1.0 0 1,0 2.0,0zM559.9,202.6a1.0,1.0 0 1,0 -2.0,0a1.0,1.0 0 1,0 2.0,0zM560.5,201.5a1.0,1.0 0 1,0 -2.0,0a1.0,1.0 0 1,0 2.0,0zM561.2,200.3a1.0,1.0 0 1,0 -2.0,0a1.0,1.0 0 1,0 2.0,0zM561.8,199.3a1.0,1.0 0 1,0 -2.0,0a1.0,1.0 0 1,0 2.0,0zM562.5,198.9a1.0,1.0 0 1,0 -2.0,0a1.0,1.0 0 1,0 2.0,0zM563.1,199.0a1.0,1.0 0 1,0 -2.0,0a1.0,1.0 0 1,0 2.0,0zM563.8,199.7a1.0,1.0 0 1,0 -2.0,0a1.0,1.0 0 1,0 2.0,0zM564.4,200.8a1.0,1.0 0 1,0 -2.0,0a1.0,1.0 0 1,0 2.0,0zM565.1,202.0a1.0,1.0 0 1,0 -2.0,0a1.0,1.0 0 1,0 2.0,0zM565.7,202.9a1.0,1.0 0 1,0 -2.0,0a1.0,1.0 0 1,0 2.0,0zM566.4,203.3a1.0,1.0 0 1,0 -2.0,0a1.0,1.0 0 1,0 2.0,0zM567.0,203.2a1.0,1.0 0 1,0 -2.0,0a1.0,1.0 0 1,0 2.0,0zM567.7,202.5a1.0,1.0 0 1,0 -2.0,0a1.0,1.0 0 1,0 2.0,0zM568.3,201.4a1.0,1.0 0 1,0 -2.0,0a1.0,1.0 0 1,0 2.0,0zM569.0,200.3a1.0,1.0 0 1,0 -2.0,0a1.0,1.0 0 1,0 2.0,0zM569.6,199.4a1.0,1.0 0 1,0 -2.0,0a1.0,1.0 0 1,0 2.0,0zM570.3,199.0a1.0,1.0 0 1,0 -2.0,0a1.0,1.0 0 1,0 2.0,0zM570.9,199.1a1.0,1.0 0 1,0 -2.0,0a1.0,1.0 0 1,0 2.0,0zM571.6,199.8a1.0,1.0 0 1,0 -2.0,0a1.0,1.0 0 1,0 2.0,0zM572.2,200.9a1.0,1.0 0 1,0 -2.0,0a1.0,1.0 0 1,0 2.0,0zM572.8,201.9a1.0,1.0 0 1,0 -2.0,0a1.0,1.0 0 1,0 2.0,0zM573.5,202.8a1.0,1.0 0 1,0 -2.0,0a1.0,1.0 0 1,0 2.0,0z" fill="#0000FF"/>
</g>
<path d="M364.00,220.00v-2.5M364.00,14.00v2.5M401.00,220.00v-2.5M401.00,14.00v2.5M438.00,220.00v-2.5M438.00,14.00v2.5M475.00,220.00v-2.5M475.00,14.00v2.5M512.00,220.00v-2.5M512.00,14.00v2.5M549.00,220.00v-2.5M549.00,14.00v2.5M364.00,220.00h2.5M571.00,220.00h-2.5M364.00,190.50h2.5M571.00,190.50h-2.5M364.00,161.00h2.5M571.00,161.00h-2.5M364.00,131.50h2.5M571.00,131.50h-2.5M364.00,102.00h2.5M571.00,102.00h-2.5M364.00,72.50h2.5M571.00,72.50h-2.5M364.00,43.00h2.5M571.00,43.00h-2.5" stroke="#262626" stroke-width="1" fill="none"/>
<rect x="364.00" y="14.00" width="207.00" height="206.00" fill="none" stroke="#262626" stroke-width="1.3"/>
<text transform="translate(364.00,235.00) scale(1.200,1)" font-size="10.5" text-anchor="middle">0</text>
<text transform="translate(401.00,235.00) scale(1.200,1)" font-size="10.5" text-anchor="middle">2</text>
<text transform="translate(438.00,235.00) scale(1.200,1)" font-size="10.5" text-anchor="middle">4</text>
<text transform="translate(475.00,235.00) scale(1.200,1)" font-size="10.5" text-anchor="middle">6</text>
<text transform="translate(512.00,235.00) scale(1.200,1)" font-size="10.5" text-anchor="middle">8</text>
<text transform="translate(549.00,235.00) scale(1.200,1)" font-size="10.5" text-anchor="middle">10</text>
<text transform="translate(357.00,223.80) scale(1.220,1)" font-size="11" text-anchor="end">0</text>
<text transform="translate(357.00,164.80) scale(1.220,1)" font-size="11" text-anchor="end">0.1</text>
<text transform="translate(357.00,105.80) scale(1.220,1)" font-size="11" text-anchor="end">0.2</text>
<text transform="translate(357.00,46.80) scale(1.220,1)" font-size="11" text-anchor="end">0.3</text>
<text transform="translate(468.50,252.00) scale(1.230,1)" font-size="13.4" text-anchor="middle">RF pulse duration (μs)</text>
<text transform="translate(328.60,113.20) rotate(-90) scale(1.124,1)" font-size="14.5" text-anchor="middle">Contrast</text>
<text transform="translate(319.00,11.40) scale(1.270,1)" font-size="15" text-anchor="start">(b)</text>
<rect x="511" y="82" width="8" height="8" fill="#0000FF"/>
<path d="M510,101.4h10" stroke="#FF0000" stroke-width="2"/>
<text transform="translate(529.50,90.80) scale(1.080,1)" font-size="13" text-anchor="start">1μs</text>
<text transform="translate(529.50,105.00) scale(1.080,1)" font-size="13" text-anchor="start">fit</text>
<circle cx="515" cy="176" r="4" fill="#0000FF"/>
<path d="M510,191h10" stroke="#FF0000" stroke-width="2"/>
<text transform="translate(529.50,180.80) scale(1.080,1)" font-size="13" text-anchor="start">10μs</text>
<text transform="translate(529.50,194.50) scale(1.080,1)" font-size="13" text-anchor="start">fit</text>
<g clip-path="url(#cc)">
<path d="M51.6,372.4L52.3,371.4L53.0,368.8L54.5,359.6L58.8,316.4L60.2,304.3L61.5,297.4L62.2,295.3L62.8,294.7L63.3,294.9L64.0,296.4L65.3,302.3L66.7,313.1L69.8,341.9L71.2,353.5L72.7,361.2L73.4,363.3L73.7,363.8L74.1,364.0L74.6,363.6L75.4,361.9L76.6,355.9L78.1,345.3L81.1,317.5L82.6,306.3L84.0,298.7L84.7,296.7L85.4,295.9L85.8,296.0L86.2,296.4L86.9,298.2L88.3,305.0L89.8,315.3L92.8,340.6L94.3,350.0L95.5,355.1L96.2,356.6L96.8,356.8L97.3,356.4L98.0,354.9L99.3,349.5L100.7,340.1L103.6,317.1L105.1,307.1L106.5,300.1L107.2,298.2L107.9,297.3L108.5,297.4L109.2,298.5L110.5,302.9L111.9,311.1L115.0,333.2L116.4,342.3L117.8,348.5L118.6,350.2L119.3,350.8L119.8,350.6L120.5,349.4L121.8,345.0L123.2,337.1L126.3,315.7L127.7,307.0L129.2,301.0L129.9,299.4L130.6,298.7L131.2,298.8L131.9,299.9L133.1,303.8L134.6,311.1L137.6,330.6L139.1,338.6L140.5,343.9L141.2,345.3L142.0,345.8L142.5,345.6L143.2,344.5L144.5,340.5L145.9,333.4L150.2,308.0L151.7,302.5L152.4,300.9L153.1,300.2L153.7,300.2L154.4,300.9L155.6,304.2L157.1,310.4L160.3,328.5L161.8,335.4L163.2,340.0L163.9,341.1L164.6,341.5L165.2,341.3L165.9,340.3L167.2,336.7L168.6,330.4L171.7,314.0L172.9,308.2L174.4,303.5L175.1,302.1L175.8,301.5L176.3,301.6L177.1,302.3L178.3,305.3L179.8,310.8L183.0,326.7L184.3,332.0L185.7,336.3L186.4,337.4L187.1,337.9L187.7,337.8L188.4,337.0L189.7,334.1L191.1,328.7L194.2,314.4L195.6,308.5L197.0,304.5L197.8,303.3L198.3,302.9L198.8,302.9L199.6,303.4L200.3,304.6L201.0,306.3L202.4,311.2L205.5,324.5L206.9,329.9L208.4,333.5L209.1,334.5L209.8,334.8L210.4,334.7L211.1,334.0L212.3,331.3L213.8,326.6L218.1,309.4L219.5,305.7L220.3,304.7L220.8,304.2L221.3,304.1L222.1,304.5L222.8,305.4L223.5,306.9L225.1,311.7L228.2,323.3L229.6,328.0L231.1,331.1L231.8,331.9L232.5,332.2L233.0,332.1L233.8,331.4L235.2,328.6L236.6,324.2L240.6,310.3L241.9,307.3L243.1,305.6L243.8,305.3L244.6,305.5L245.3,306.3L246.2,307.8L247.6,311.6L252.1,326.0L253.6,328.8L254.3,329.6L255.0,330.0L255.7,329.8L256.4,329.2L257.9,326.7L259.3,322.8L262.6,312.6L264.4,308.3L265.3,307.0L266.0,306.5L266.7,306.4L267.6,306.9" fill="none" stroke="#0072BD" stroke-width="1.5" stroke-linejoin="round" />
<path d="M51.6,375.1L52.3,374.1L53.0,371.4L54.5,362.0L55.7,350.1L58.8,316.8L60.2,304.1L61.5,296.8L62.2,294.7L62.8,294.0L63.3,294.3L64.0,296.0L65.3,302.4L66.7,314.0L69.8,345.1L71.2,357.7L72.7,366.2L73.4,368.5L73.7,369.1L74.1,369.3L74.6,369.0L75.4,367.2L76.6,361.0L78.1,349.7L81.1,320.0L82.6,307.9L84.0,299.8L84.7,297.6L85.4,296.8L85.8,296.9L86.2,297.4L86.9,299.3L88.3,306.9L89.8,318.3L92.8,346.1L94.3,356.6L95.5,362.4L96.2,364.0L96.8,364.4L97.3,364.0L98.0,362.3L99.3,356.6L100.7,346.4L103.8,319.7L105.1,310.2L106.5,302.5L107.2,300.4L107.9,299.5L108.5,299.6L109.2,300.8L110.5,305.8L111.9,315.0L115.1,341.4L116.4,350.2L117.8,357.3L118.6,359.2L119.3,360.0L119.8,359.8L120.5,358.6L121.8,353.7L123.2,344.9L126.3,321.0L127.7,311.2L129.2,304.5L129.9,302.7L130.6,301.9L131.2,302.1L131.9,303.3L133.1,307.9L134.6,316.2L137.6,338.6L139.1,347.8L140.5,354.0L141.2,355.7L142.0,356.3L142.5,356.1L143.2,354.9L144.5,350.4L145.9,342.4L150.2,313.2L151.7,307.0L152.4,305.1L153.1,304.3L153.7,304.3L154.4,305.2L155.1,307.1L155.8,309.8L157.3,317.4L160.3,337.5L161.8,345.6L163.2,351.1L163.9,352.5L164.6,353.0L165.2,352.8L165.9,351.6L167.2,347.5L168.6,340.2L172.9,314.2L174.4,308.7L175.1,307.1L175.8,306.4L176.3,306.5L177.1,307.4L178.3,310.9L179.8,317.5L183.0,336.6L184.4,343.8L185.9,348.5L186.6,349.8L187.3,350.1L187.9,349.9L188.6,348.8L189.8,345.0L191.3,338.4L194.2,322.2L195.6,315.1L197.0,310.3L197.8,308.9L198.3,308.5L198.8,308.4L199.6,309.1L200.3,310.5L201.0,312.6L202.4,318.6L205.5,334.8L206.9,341.4L208.4,345.9L209.1,347.1L209.8,347.6L210.4,347.5L211.1,346.6L212.5,342.8L214.0,336.9L218.1,316.7L219.5,312.2L220.3,310.9L220.8,310.3L221.3,310.2L222.1,310.7L222.8,311.8L223.5,313.6L225.1,319.6L228.2,334.1L229.6,340.0L231.1,344.0L231.8,345.0L232.5,345.4L233.0,345.2L233.8,344.4L235.2,340.9L236.6,335.5L240.6,318.2L241.9,314.4L243.1,312.2L243.8,311.9L244.6,312.2L245.3,313.1L246.2,315.1L247.6,319.8L250.9,333.6L252.3,338.8L253.7,342.2L254.5,343.1L255.2,343.4L255.9,343.1L256.6,342.2L258.1,338.8L259.3,334.4L262.6,321.4L264.4,315.9L265.3,314.3L266.0,313.6L266.7,313.4L267.6,314.1" fill="none" stroke="#D95319" stroke-width="1.5" stroke-linejoin="round" />
<path d="M51.6,375.9L52.3,374.9L53.0,372.6L54.5,364.1L58.8,324.3L60.2,313.2L61.5,306.8L62.2,304.9L62.8,304.3L63.3,304.5L64.0,306.0L65.3,311.6L66.7,321.8L69.8,349.2L71.2,360.3L72.7,367.8L73.4,369.8L74.1,370.5L74.6,370.2L75.4,368.7L76.6,363.3L78.1,353.4L81.1,327.4L82.6,316.9L84.0,309.8L84.7,307.9L85.4,307.3L85.8,307.4L86.2,307.8L86.9,309.5L88.3,316.2L89.8,326.2L92.8,350.8L94.3,360.0L95.5,365.1L96.2,366.6L96.8,366.9L97.3,366.6L98.0,365.2L99.3,360.2L100.7,351.3L103.8,328.0L105.1,319.7L106.5,313.1L107.2,311.2L107.9,310.4L108.5,310.5L109.2,311.6L110.5,316.0L111.9,324.1L115.1,347.4L116.4,355.2L117.8,361.4L118.6,363.1L119.3,363.8L119.8,363.7L120.5,362.6L121.8,358.4L123.2,350.7L126.3,329.8L127.7,321.3L129.2,315.5L129.9,313.9L130.6,313.2L131.2,313.4L131.9,314.5L133.1,318.5L134.6,325.9L137.6,345.6L139.1,353.6L140.5,359.1L141.2,360.6L142.0,361.1L142.5,361.0L143.2,359.9L144.5,356.0L145.9,349.0L150.2,323.6L151.7,318.1L152.4,316.5L153.1,315.8L153.7,315.9L154.4,316.7L155.1,318.3L155.8,320.7L157.3,327.4L160.3,345.1L161.8,352.2L163.2,357.0L163.9,358.3L164.6,358.7L165.2,358.5L165.9,357.5L167.2,353.9L168.6,347.6L172.9,324.9L174.4,320.1L175.1,318.7L175.8,318.1L176.3,318.2L177.1,319.0L178.3,322.1L179.8,327.9L183.0,344.6L184.4,350.9L185.9,355.1L186.6,356.2L187.3,356.5L187.9,356.3L188.6,355.4L189.8,352.1L191.3,346.3L194.2,332.2L195.6,326.0L197.0,321.8L197.8,320.6L198.3,320.2L198.8,320.2L199.6,320.7L200.3,322.0L201.0,323.9L202.4,329.1L205.5,343.3L206.9,349.1L208.4,353.1L209.1,354.2L209.8,354.6L210.4,354.5L211.1,353.7L212.5,350.4L214.0,345.2L218.1,327.7L219.5,323.7L220.3,322.5L220.8,322.1L221.3,322.0L222.1,322.4L222.8,323.4L223.5,325.0L225.1,330.3L228.2,343.0L229.6,348.1L231.1,351.6L231.8,352.5L232.5,352.8L233.0,352.7L233.8,352.0L235.2,349.0L236.6,344.3L240.6,329.1L241.9,325.8L243.1,323.9L243.8,323.6L244.6,323.9L245.3,324.7L246.2,326.5L247.6,330.6L250.9,342.6L252.3,347.2L253.7,350.2L254.5,351.0L255.2,351.3L255.9,351.0L256.6,350.2L258.1,347.2L259.3,343.4L262.6,332.0L264.4,327.3L265.3,325.8L266.0,325.2L266.7,325.1L267.6,325.7" fill="none" stroke="#EDB120" stroke-width="1.5" stroke-linejoin="round" />
<path d="M51.6,375.0L52.3,374.3L53.0,372.5L54.5,365.8L55.7,357.5L58.8,334.1L60.2,325.2L61.5,320.1L62.2,318.7L62.8,318.2L63.3,318.5L64.0,319.7L65.3,324.3L66.7,332.5L69.8,354.6L71.2,363.6L72.7,369.6L73.4,371.3L74.1,371.9L74.6,371.7L75.4,370.5L76.6,366.1L78.1,358.3L81.1,337.4L82.6,329.0L84.0,323.4L84.7,321.9L85.4,321.3L86.2,321.8L86.9,323.2L88.3,328.6L89.8,336.6L92.8,356.3L94.3,363.6L95.5,367.7L96.2,368.9L96.8,369.2L97.3,368.9L98.0,367.8L99.3,363.8L100.7,356.7L103.8,338.1L105.1,331.5L106.5,326.2L107.2,324.7L107.9,324.1L108.5,324.2L109.2,325.1L110.5,328.6L111.9,335.1L115.1,353.6L116.4,359.8L117.8,364.8L118.6,366.1L119.3,366.7L119.8,366.6L120.5,365.7L121.8,362.4L123.2,356.2L126.3,339.7L127.7,332.9L129.2,328.3L129.9,327.1L130.6,326.6L131.2,326.7L131.9,327.6L133.1,330.8L134.6,336.6L137.6,352.2L139.1,358.6L140.5,362.9L141.2,364.1L142.0,364.6L142.5,364.4L143.2,363.6L144.5,360.5L145.9,355.0L150.2,334.9L151.7,330.6L152.4,329.4L153.1,328.8L153.7,328.8L154.4,329.5L155.1,330.8L155.8,332.7L157.3,338.0L160.3,351.9L161.8,357.5L163.2,361.3L163.9,362.3L164.6,362.7L165.2,362.5L165.9,361.7L167.2,358.9L168.6,353.9L172.9,336.1L174.4,332.3L175.1,331.2L175.8,330.8L176.3,330.8L177.1,331.4L178.3,333.9L179.8,338.5L183.0,351.6L184.4,356.6L185.9,359.8L186.6,360.7L187.3,361.0L187.9,360.8L188.6,360.0L189.8,357.5L191.3,353.0L194.2,341.9L195.6,337.1L197.0,333.8L197.8,332.9L198.3,332.6L198.8,332.6L199.6,333.0L200.3,334.0L201.0,335.5L202.4,339.6L205.5,350.7L206.9,355.2L208.4,358.3L209.1,359.1L209.8,359.4L210.4,359.4L211.1,358.8L212.5,356.2L214.0,352.2L218.1,338.5L219.5,335.4L220.3,334.5L220.8,334.2L221.3,334.1L222.1,334.4L222.8,335.2L223.5,336.5L225.1,340.6L228.2,350.4L229.6,354.4L231.1,357.1L231.8,357.9L232.5,358.1L233.0,358.0L233.8,357.5L235.2,355.1L236.6,351.5L240.6,339.8L241.9,337.2L243.1,335.8L243.8,335.5L244.6,335.7L245.3,336.4L246.0,337.4L247.6,341.0L250.9,350.2L252.3,353.8L253.7,356.1L254.5,356.7L255.2,356.9L255.9,356.7L256.6,356.1L258.1,353.8L259.3,350.9L262.6,342.1L264.2,338.7L265.1,337.5L266.0,336.9L266.7,336.8L267.6,337.3" fill="none" stroke="#7E2F8E" stroke-width="1.5" stroke-linejoin="round" />
</g>
<path d="M51.60,375.50v-2.5M51.60,289.50v2.5M78.60,375.50v-2.5M78.60,289.50v2.5M105.60,375.50v-2.5M105.60,289.50v2.5M132.60,375.50v-2.5M132.60,289.50v2.5M159.60,375.50v-2.5M159.60,289.50v2.5M186.60,375.50v-2.5M186.60,289.50v2.5M213.60,375.50v-2.5M213.60,289.50v2.5M240.60,375.50v-2.5M240.60,289.50v2.5M267.60,375.50v-2.5M267.60,289.50v2.5M51.60,375.50h2.5M267.60,375.50h-2.5M51.60,358.30h2.5M267.60,358.30h-2.5M51.60,341.10h2.5M267.60,341.10h-2.5M51.60,323.90h2.5M267.60,323.90h-2.5M51.60,306.70h2.5M267.60,306.70h-2.5M51.60,289.50h2.5M267.60,289.50h-2.5" stroke="#262626" stroke-width="1" fill="none"/>
<rect x="51.60" y="289.50" width="216.00" height="86.00" fill="none" stroke="#262626" stroke-width="1.3"/>
<text transform="translate(51.60,387.50) scale(1.200,1)" font-size="11" text-anchor="middle">0</text>
<text transform="translate(105.60,387.50) scale(1.200,1)" font-size="11" text-anchor="middle">1</text>
<text transform="translate(159.60,387.50) scale(1.200,1)" font-size="11" text-anchor="middle">2</text>
<text transform="translate(213.60,387.50) scale(1.200,1)" font-size="11" text-anchor="middle">3</text>
<text transform="translate(267.60,387.50) scale(1.200,1)" font-size="11" text-anchor="middle">4</text>
<text transform="translate(45.60,379.50) scale(1.200,1)" font-size="11" text-anchor="end">0</text>
<text transform="translate(45.60,345.10) scale(1.200,1)" font-size="11" text-anchor="end">0.1</text>
<text transform="translate(45.60,310.70) scale(1.200,1)" font-size="11" text-anchor="end">0.2</text>
<text transform="translate(155.10,406.50) scale(1.230,1)" font-size="13.4" text-anchor="middle">RF pulse duration (μs)</text>
<text transform="translate(16.50,337.60) rotate(-90) scale(1.124,1)" font-size="14.5" text-anchor="middle">Contrast</text>
<text transform="translate(0.50,263.80) scale(1.270,1)" font-size="15" text-anchor="start">(c)</text>
<text transform="translate(20.00,284.90) scale(1.050,1)" font-size="12.4" text-anchor="start">Saturation parameter</text>
<rect x="153.6" y="280.2" width="8.8" height="4.3" fill="#0072BD" fill-opacity="0.85"/>
<text transform="translate(162.50,285.70) scale(1.170,1)" font-size="12" text-anchor="start">0.1</text>
<rect x="182.9" y="280.2" width="8.8" height="4.3" fill="#D95319" fill-opacity="0.85"/>
<text transform="translate(193.60,285.70) scale(1.170,1)" font-size="12" text-anchor="start">0.25</text>
<rect x="227.4" y="280.2" width="8.8" height="4.3" fill="#EDB120" fill-opacity="0.85"/>
<text transform="translate(237.00,285.70) scale(1.170,1)" font-size="12" text-anchor="start">0.5</text>
<rect x="260.8" y="280.2" width="8.8" height="4.3" fill="#7E2F8E" fill-opacity="0.85"/>
<text transform="translate(275.00,285.70) scale(1.170,1)" font-size="12" text-anchor="start">1</text>
<g clip-path="url(#cd)">
<path d="M356.0,372.0L356.7,371.0L357.4,368.4L358.9,359.3L363.2,316.7L364.6,304.7L365.9,297.9L366.6,295.8L367.1,295.2L367.7,295.4L368.4,296.9L369.6,302.7L371.1,313.3L374.1,341.7L375.5,353.2L377.0,360.9L377.7,362.9L378.1,363.4L378.4,363.6L379.0,363.2L379.7,361.5L380.9,355.6L382.4,345.1L385.4,317.6L386.8,306.5L388.3,298.9L389.0,296.9L389.7,296.1L390.1,296.2L390.4,296.6L391.1,298.4L392.6,305.2L394.0,315.4L397.1,340.4L398.5,349.7L399.8,354.9L400.5,356.3L401.0,356.5L401.6,356.2L402.3,354.6L403.5,349.3L405.0,340.0L407.8,317.1L409.3,307.1L410.7,300.2L411.4,298.3L412.1,297.4L412.7,297.5L413.4,298.6L414.6,302.9L416.1,311.1L419.3,334.4L420.6,342.2L422.0,348.4L422.7,350.0L423.4,350.7L424.0,350.5L424.7,349.3L425.9,344.9L427.4,337.0L430.4,315.7L431.9,307.0L433.3,301.1L434.0,299.4L434.7,298.7L435.3,298.9L436.0,299.9L437.2,303.9L438.7,311.2L441.7,330.6L443.2,338.6L444.6,343.9L445.3,345.3L446.0,345.8L446.6,345.6L447.3,344.5L448.5,340.5L450.0,333.5L454.3,308.0L455.7,302.5L456.4,301.0L457.1,300.2L457.7,300.2L458.4,301.0L459.7,304.3L461.1,310.5L464.3,328.6L465.8,335.5L467.2,340.1L467.9,341.3L468.6,341.7L469.2,341.4L469.9,340.4L471.1,336.9L472.6,330.6L475.6,314.1L476.9,308.3L478.3,303.6L479.0,302.2L479.7,301.6L480.3,301.7L481.0,302.4L482.3,305.4L483.7,310.9L486.9,326.9L488.2,332.3L489.6,336.5L490.3,337.7L491.0,338.2L491.6,338.1L492.3,337.3L493.5,334.4L495.0,329.0L498.0,314.6L499.5,308.6L500.9,304.6L501.6,303.5L502.2,303.0L502.7,303.0L503.4,303.5L504.1,304.7L504.8,306.5L506.3,311.4L509.3,324.8L510.8,330.2L512.2,333.9L512.9,334.9L513.6,335.3L514.2,335.1L514.9,334.4L516.1,331.8L517.6,327.0L521.9,309.7L523.3,305.9L524.0,304.9L524.6,304.4L525.1,304.3L525.8,304.7L526.5,305.6L527.3,307.1L528.9,312.0L531.9,323.7L533.4,328.5L534.8,331.6L535.5,332.5L536.2,332.8L536.8,332.6L537.5,331.9L538.9,329.1L540.4,324.7L544.3,310.6L545.6,307.5L546.8,305.8L547.5,305.5L548.2,305.8L549.0,306.5L549.9,308.1L551.5,312.5L554.5,322.8L555.8,326.5L557.2,329.5L557.9,330.3L558.6,330.6L559.4,330.5L560.1,329.8L561.5,327.3L563.0,323.4L566.2,313.0L568.0,308.7L568.9,307.4L569.6,306.8L570.3,306.7L571.2,307.2" fill="none" stroke="#0072BD" stroke-width="1.5" stroke-linejoin="round" />
<path d="M356.0,374.7L356.7,374.0L357.4,372.1L358.9,365.2L360.1,356.5L363.2,332.2L364.6,323.0L365.9,317.7L366.6,316.1L367.1,315.6L367.7,315.8L368.4,317.1L369.6,321.8L371.1,330.4L374.1,353.4L375.5,362.7L377.0,369.0L377.7,370.7L378.4,371.4L379.0,371.1L379.7,369.9L380.9,365.3L382.4,357.0L385.4,335.2L386.8,326.3L388.3,320.3L389.0,318.7L389.7,318.2L390.3,318.4L391.0,319.6L392.2,324.0L393.7,331.8L396.7,352.5L398.1,360.8L399.6,366.4L400.3,367.8L401.0,368.3L401.6,368.0L402.3,366.8L403.5,362.6L405.0,355.1L408.0,335.4L409.3,328.4L410.7,322.7L411.4,321.1L412.1,320.4L412.7,320.5L413.4,321.5L414.6,325.2L416.1,332.0L419.3,351.6L420.7,359.0L422.2,363.9L422.9,365.2L423.6,365.6L424.1,365.3L424.9,364.1L426.1,360.2L427.6,353.4L430.4,336.6L431.9,329.4L433.3,324.4L434.0,323.0L434.7,322.5L435.3,322.6L436.0,323.5L437.2,326.9L438.7,333.1L441.7,349.9L443.2,356.7L444.6,361.3L445.3,362.6L446.0,363.1L446.6,362.9L447.3,362.0L448.5,358.7L450.0,352.7L454.3,331.0L455.7,326.3L456.4,324.9L457.1,324.3L457.7,324.3L458.4,325.0L459.1,326.4L459.8,328.4L461.3,334.1L464.3,349.2L465.8,355.3L467.2,359.4L467.9,360.4L468.6,360.8L469.2,360.6L469.9,359.8L471.1,356.7L472.6,351.3L476.9,331.7L478.3,327.6L479.0,326.4L479.7,325.9L480.3,325.9L481.0,326.6L482.3,329.3L483.7,334.2L486.9,348.5L488.3,354.0L489.8,357.6L490.5,358.5L491.2,358.8L491.8,358.6L492.5,357.7L493.7,354.9L495.2,349.9L498.0,337.7L499.5,332.4L500.9,328.7L501.6,327.7L502.2,327.3L502.7,327.3L503.4,327.8L504.1,328.9L504.8,330.5L506.3,335.0L509.3,347.2L510.8,352.2L512.2,355.6L512.9,356.5L513.6,356.9L514.2,356.8L514.9,356.2L516.3,353.3L517.8,348.8L521.9,333.5L523.3,330.1L524.0,329.1L524.6,328.7L525.1,328.6L525.8,328.9L526.5,329.8L527.3,331.2L528.9,335.7L531.9,346.7L533.4,351.1L534.8,354.1L535.5,354.9L536.2,355.2L536.8,355.1L537.5,354.5L538.9,351.9L540.4,347.7L544.3,334.5L545.6,331.6L546.8,330.0L547.5,329.7L548.2,329.9L549.0,330.6L549.9,332.1L551.3,335.8L554.5,346.2L556.0,350.2L557.4,352.8L558.1,353.5L558.8,353.7L559.5,353.5L560.3,352.8L561.7,350.1L563.0,346.8L566.2,336.8L568.0,332.6L568.9,331.4L569.6,330.8L570.3,330.7L571.2,331.2" fill="none" stroke="#D95319" stroke-width="1.5" stroke-linejoin="round" />
<path d="M356.0,374.0L356.7,373.6L357.4,372.3L358.9,367.6L360.1,361.7L363.2,345.0L364.6,338.7L365.9,335.1L366.6,334.0L367.1,333.7L367.7,333.9L368.4,334.8L369.6,338.0L371.1,344.0L374.1,359.9L375.5,366.3L377.0,370.7L377.7,371.9L378.4,372.3L379.0,372.2L379.7,371.3L380.9,368.2L382.4,362.5L385.4,347.5L386.8,341.5L388.3,337.4L389.0,336.3L389.7,335.9L390.3,336.1L391.0,336.9L392.2,339.9L393.7,345.3L396.7,359.6L398.1,365.4L399.6,369.2L400.3,370.2L401.0,370.6L401.6,370.4L402.3,369.6L403.5,366.7L405.0,361.5L408.0,348.0L409.3,343.2L410.7,339.3L411.4,338.2L412.1,337.8L412.7,337.8L413.4,338.5L414.6,341.0L416.1,345.7L419.3,359.3L420.7,364.4L422.2,367.8L422.9,368.7L423.6,368.9L424.1,368.7L424.9,368.0L426.1,365.3L427.6,360.6L430.4,349.1L431.9,344.1L433.3,340.7L434.0,339.7L434.7,339.4L435.3,339.5L436.0,340.1L437.2,342.4L438.7,346.7L441.7,358.3L443.2,363.0L444.6,366.2L445.3,367.1L446.0,367.4L446.6,367.3L447.3,366.7L448.5,364.4L450.0,360.3L454.3,345.4L455.7,342.2L456.4,341.3L457.1,340.8L457.7,340.8L458.4,341.3L459.8,343.7L461.3,347.6L464.3,358.0L465.8,362.2L467.2,365.1L467.9,365.8L468.6,366.1L469.2,366.0L469.9,365.4L471.1,363.3L472.6,359.5L476.9,346.1L478.3,343.3L479.0,342.5L479.7,342.1L480.3,342.2L481.0,342.6L482.3,344.5L483.7,347.9L486.9,357.8L488.3,361.5L489.8,364.0L490.5,364.6L491.2,364.9L491.8,364.7L492.5,364.2L493.7,362.2L495.2,358.8L498.0,350.4L499.5,346.8L500.9,344.2L501.6,343.6L502.2,343.3L502.7,343.3L503.4,343.6L504.8,345.5L506.3,348.6L509.3,357.0L510.8,360.5L512.2,362.8L512.9,363.5L513.6,363.7L514.2,363.7L514.9,363.2L516.3,361.3L517.8,358.2L521.9,347.7L523.3,345.3L524.6,344.4L525.1,344.3L525.8,344.6L527.3,346.1L528.9,349.2L531.9,356.8L533.4,359.9L534.8,362.0L535.5,362.6L536.2,362.8L536.8,362.7L537.5,362.3L538.9,360.4L540.4,357.6L544.3,348.5L545.6,346.5L546.8,345.4L547.5,345.3L548.2,345.4L549.0,345.9L549.9,346.9L551.3,349.4L554.5,356.7L556.0,359.4L557.4,361.2L558.1,361.7L558.8,361.9L559.5,361.7L560.3,361.2L561.7,359.4L566.2,350.3L568.0,347.4L568.9,346.5L569.6,346.2L570.3,346.1L571.2,346.5" fill="none" stroke="#EDB120" stroke-width="1.5" stroke-linejoin="round" />
<path d="M356.0,374.4L356.7,374.2L357.4,373.5L358.9,371.1L363.2,359.6L364.6,356.3L365.9,354.5L366.6,353.9L367.1,353.8L367.7,353.9L368.4,354.3L369.6,356.0L371.1,359.0L374.1,367.1L375.5,370.3L377.0,372.6L377.7,373.2L378.4,373.4L379.0,373.3L379.7,372.9L380.9,371.3L382.4,368.4L385.4,360.8L386.8,357.7L388.3,355.6L389.0,355.0L389.7,354.8L390.3,354.9L391.0,355.4L392.2,356.9L393.7,359.7L396.7,366.9L398.1,369.8L399.6,371.8L400.3,372.3L401.0,372.5L402.3,372.0L403.5,370.5L405.0,367.9L409.3,358.6L410.7,356.6L411.4,356.0L412.1,355.8L413.4,356.2L414.6,357.5L416.1,359.9L419.3,366.8L420.7,369.4L422.2,371.1L422.9,371.5L423.6,371.7L424.9,371.2L426.1,369.8L427.6,367.4L431.9,359.1L433.3,357.3L434.0,356.9L434.7,356.7L436.0,357.0L437.2,358.2L438.7,360.4L443.2,368.7L444.6,370.3L445.3,370.8L446.0,371.0L447.3,370.6L448.5,369.4L450.0,367.4L454.3,359.8L455.7,358.2L457.1,357.5L458.4,357.7L459.8,358.9L461.3,360.9L464.3,366.2L465.8,368.4L467.2,369.8L468.6,370.3L469.9,370.0L471.1,368.9L472.6,367.0L476.9,360.2L478.3,358.8L479.7,358.2L481.0,358.4L482.3,359.4L483.7,361.1L486.9,366.1L488.3,368.0L489.8,369.3L491.2,369.7L492.5,369.4L493.7,368.4L495.2,366.7L499.5,360.6L500.9,359.3L502.2,358.8L503.4,359.0L504.8,359.9L506.3,361.5L510.8,367.6L512.2,368.7L513.6,369.2L514.9,369.0L516.3,368.0L517.8,366.4L521.9,361.1L523.3,359.9L524.6,359.4L525.8,359.5L527.3,360.3L528.9,361.9L533.4,367.3L534.8,368.4L536.2,368.7L537.5,368.5L538.9,367.6L544.3,361.6L545.6,360.6L546.8,360.0L548.2,360.0L549.9,360.8L551.3,362.0L556.0,367.1L557.4,368.0L558.8,368.3L560.3,368.0L561.7,367.1L566.2,362.5L568.0,361.0L569.6,360.4L571.2,360.6" fill="none" stroke="#7E2F8E" stroke-width="1.5" stroke-linejoin="round" />
</g>
<path d="M356.00,375.40v-2.5M356.00,289.50v2.5M382.90,375.40v-2.5M382.90,289.50v2.5M409.80,375.40v-2.5M409.80,289.50v2.5M436.70,375.40v-2.5M436.70,289.50v2.5M463.60,375.40v-2.5M463.60,289.50v2.5M490.50,375.40v-2.5M490.50,289.50v2.5M517.40,375.40v-2.5M517.40,289.50v2.5M544.30,375.40v-2.5M544.30,289.50v2.5M571.20,375.40v-2.5M571.20,289.50v2.5M356.00,375.40h2.5M571.20,375.40h-2.5M356.00,358.20h2.5M571.20,358.20h-2.5M356.00,341.00h2.5M571.20,341.00h-2.5M356.00,323.80h2.5M571.20,323.80h-2.5M356.00,306.60h2.5M571.20,306.60h-2.5M356.00,289.40h2.5M571.20,289.40h-2.5" stroke="#262626" stroke-width="1" fill="none"/>
<rect x="356.00" y="289.50" width="215.20" height="85.90" fill="none" stroke="#262626" stroke-width="1.3"/>
<text transform="translate(356.00,387.40) scale(1.200,1)" font-size="11" text-anchor="middle">0</text>
<text transform="translate(409.80,387.40) scale(1.200,1)" font-size="11" text-anchor="middle">1</text>
<text transform="translate(463.60,387.40) scale(1.200,1)" font-size="11" text-anchor="middle">2</text>
<text transform="translate(517.40,387.40) scale(1.200,1)" font-size="11" text-anchor="middle">3</text>
<text transform="translate(571.20,387.40) scale(1.200,1)" font-size="11" text-anchor="middle">4</text>
<text transform="translate(350.00,379.40) scale(1.200,1)" font-size="11" text-anchor="end">0</text>
<text transform="translate(350.00,345.00) scale(1.200,1)" font-size="11" text-anchor="end">0.1</text>
<text transform="translate(350.00,310.60) scale(1.200,1)" font-size="11" text-anchor="end">0.2</text>
<text transform="translate(460.10,406.50) scale(1.230,1)" font-size="13.4" text-anchor="middle">RF pulse duration (μs)</text>
<text transform="translate(320.90,337.60) rotate(-90) scale(1.124,1)" font-size="14.5" text-anchor="middle">Contrast</text>
<text transform="translate(319.00,265.40) scale(1.270,1)" font-size="15" text-anchor="start">(d)</text>
<text transform="translate(336.00,284.70) scale(1.040,1)" font-size="12.4" text-anchor="start">Laser pulse (μs)</text>
<rect x="449.2" y="280.2" width="8.8" height="4.3" fill="#0072BD" fill-opacity="0.85"/>
<text transform="translate(460.30,285.70) scale(1.170,1)" font-size="12" text-anchor="start">1</text>
<rect x="480.6" y="280.2" width="8.8" height="4.3" fill="#D95319" fill-opacity="0.85"/>
<text transform="translate(490.50,285.70) scale(1.170,1)" font-size="12" text-anchor="start">3</text>
<rect x="510.9" y="280.2" width="8.8" height="4.3" fill="#EDB120" fill-opacity="0.85"/>
<text transform="translate(520.80,285.70) scale(1.170,1)" font-size="12" text-anchor="start">5</text>
<rect x="543.7" y="280.2" width="8.8" height="4.3" fill="#7E2F8E" fill-opacity="0.85"/>
<text transform="translate(554.60,285.70) scale(1.170,1)" font-size="12" text-anchor="start">10</text>
</svg></body></html>
